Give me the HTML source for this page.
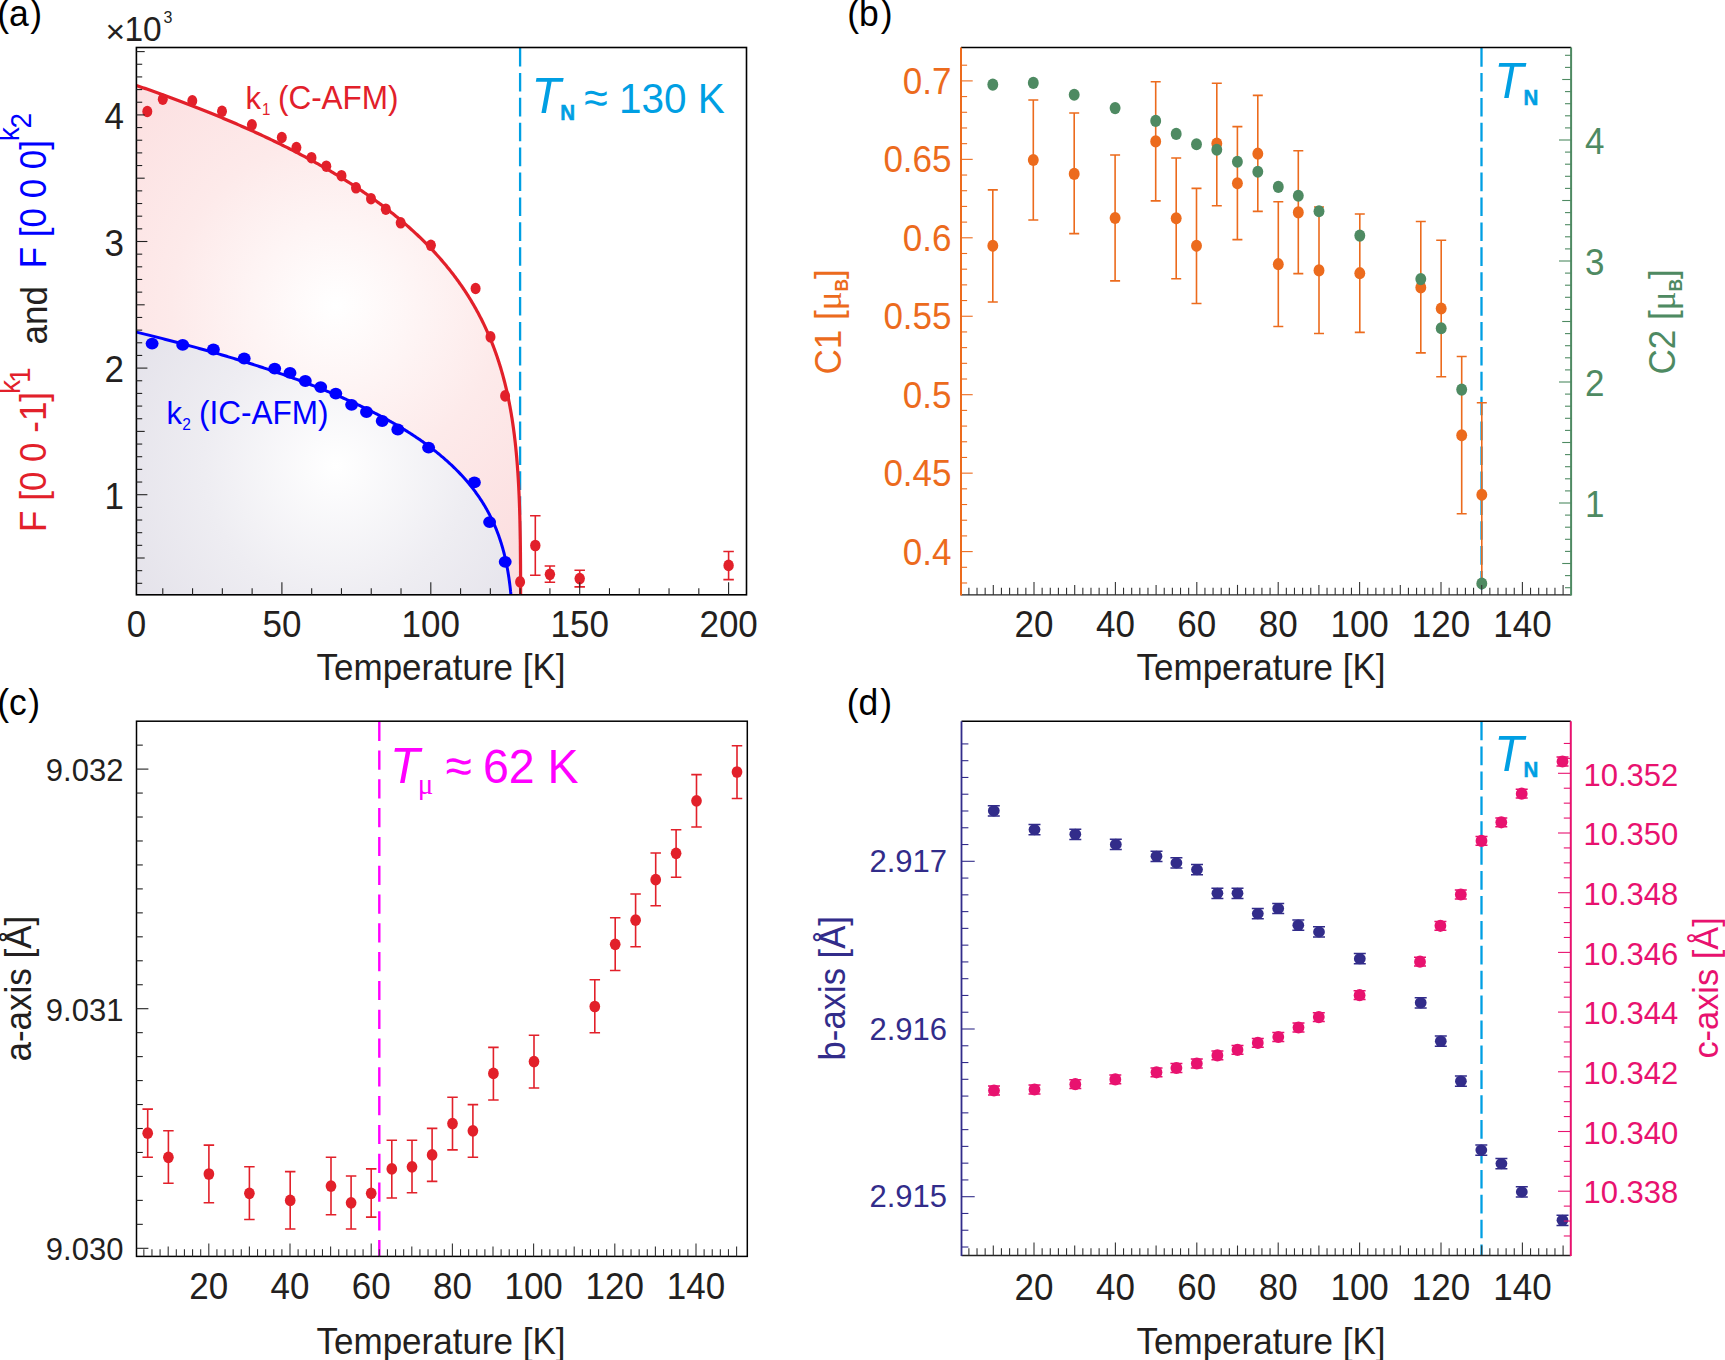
<!DOCTYPE html>
<html><head><meta charset="utf-8"><title>Figure</title>
<style>html,body{margin:0;padding:0;background:#fff;} svg{display:block;}</style></head>
<body><svg width="1725" height="1360" viewBox="0 0 1725 1360">
<rect width="1725" height="1360" fill="#fff"/>
<text transform="translate(-2.8,25.5) scale(1,1.04)" font-family="'Liberation Sans', Arial, Helvetica, sans-serif" font-size="35.5" fill="#000" text-anchor="start">(a<tspan dx="1.4">)</tspan></text>
<text transform="translate(847.2,25.5) scale(1,1.04)" font-family="'Liberation Sans', Arial, Helvetica, sans-serif" font-size="35.5" fill="#000" text-anchor="start">(b<tspan dx="1.9">)</tspan></text>
<text transform="translate(-2.7,714.5) scale(1,1.04)" font-family="'Liberation Sans', Arial, Helvetica, sans-serif" font-size="35.5" fill="#000" text-anchor="start">(c<tspan dx="1.4">)</tspan></text>
<text transform="translate(846.8,714.5) scale(1,1.04)" font-family="'Liberation Sans', Arial, Helvetica, sans-serif" font-size="35.5" fill="#000" text-anchor="start">(d<tspan dx="1.9">)</tspan></text>
<defs><radialGradient id="gR" gradientUnits="userSpaceOnUse" cx="336" cy="306" r="300"><stop offset="0" stop-color="#ffffff"/><stop offset="0.55" stop-color="#fdeaea"/><stop offset="1" stop-color="#fcdfe0"/></radialGradient><radialGradient id="gB" gradientUnits="userSpaceOnUse" cx="336" cy="466" r="240"><stop offset="0" stop-color="#ffffff"/><stop offset="0.55" stop-color="#eeedf2"/><stop offset="1" stop-color="#e4e2ea"/></radialGradient></defs>
<polygon points="136.40,85.46 138.52,86.19 140.62,86.92 142.73,87.65 144.82,88.38 146.91,89.11 149.00,89.84 151.07,90.58 153.14,91.31 155.21,92.05 157.27,92.78 159.32,93.52 161.36,94.26 163.40,95.00 165.43,95.74 167.46,96.48 169.48,97.22 171.49,97.96 173.50,98.71 175.50,99.45 177.50,100.20 179.49,100.95 181.47,101.69 183.44,102.44 185.41,103.19 187.38,103.94 189.33,104.69 191.29,105.45 193.23,106.20 195.17,106.96 197.10,107.71 199.03,108.47 200.94,109.23 202.86,109.98 204.76,110.74 206.66,111.50 208.56,112.27 210.45,113.03 212.33,113.79 214.20,114.56 216.07,115.32 217.94,116.09 219.79,116.86 221.64,117.63 223.49,118.40 225.33,119.17 227.16,119.94 228.98,120.71 230.80,121.49 232.62,122.26 234.42,123.04 236.23,123.82 238.02,124.60 239.81,125.38 241.59,126.16 243.37,126.94 245.14,127.72 246.90,128.51 248.66,129.29 250.41,130.08 252.15,130.87 253.89,131.66 255.63,132.45 257.35,133.24 259.07,134.03 260.79,134.82 262.50,135.62 264.20,136.41 265.89,137.21 267.58,138.01 269.27,138.81 270.95,139.61 272.62,140.41 274.28,141.21 275.94,142.02 277.59,142.82 279.24,143.63 280.88,144.44 282.52,145.25 284.15,146.06 285.77,146.87 287.38,147.68 289.00,148.49 290.60,149.31 292.20,150.12 293.79,150.94 295.38,151.76 296.96,152.58 298.53,153.40 300.10,154.23 301.66,155.05 303.22,155.88 304.77,156.70 306.31,157.53 307.85,158.36 309.38,159.19 310.90,160.02 312.42,160.86 313.94,161.69 315.44,162.53 316.95,163.36 318.44,164.20 319.93,165.04 321.41,165.89 322.89,166.73 324.36,167.57 325.83,168.42 327.29,169.27 328.74,170.11 330.19,170.96 331.63,171.82 333.07,172.67 334.50,173.52 335.92,174.38 337.34,175.24 338.75,176.10 340.15,176.96 341.55,177.82 342.95,178.68 344.34,179.55 345.72,180.41 347.09,181.28 348.46,182.15 349.83,183.02 351.19,183.89 352.54,184.77 353.88,185.64 355.23,186.52 356.56,187.40 357.89,188.28 359.21,189.16 360.53,190.04 361.84,190.93 363.14,191.82 364.44,192.70 365.74,193.59 367.03,194.48 368.31,195.38 369.58,196.27 370.85,197.17 372.12,198.07 373.38,198.97 374.63,199.87 375.87,200.77 377.12,201.68 378.35,202.59 379.58,203.49 380.80,204.40 382.02,205.32 383.23,206.23 384.44,207.15 385.64,208.06 386.83,208.98 388.02,209.90 389.20,210.83 390.38,211.75 391.55,212.68 392.72,213.61 393.88,214.54 395.03,215.47 396.18,216.40 397.32,217.34 398.46,218.28 399.59,219.22 400.71,220.16 401.83,221.10 402.95,222.05 404.06,223.00 405.16,223.95 406.25,224.90 407.35,225.85 408.43,226.81 409.51,227.77 410.58,228.73 411.65,229.69 412.71,230.65 413.77,231.62 414.82,232.59 415.87,233.56 416.91,234.53 417.94,235.51 418.97,236.48 419.99,237.46 421.01,238.45 422.02,239.43 423.03,240.42 424.03,241.40 425.02,242.39 426.01,243.39 426.99,244.38 427.97,245.38 428.94,246.38 429.91,247.38 430.87,248.39 431.83,249.39 432.78,250.40 433.72,251.41 434.66,252.43 435.59,253.44 436.52,254.46 437.44,255.48 438.36,256.51 439.27,257.53 440.18,258.56 441.08,259.60 441.97,260.63 442.86,261.67 443.74,262.71 444.62,263.75 445.49,264.79 446.36,265.84 447.22,266.89 448.08,267.94 448.93,269.00 449.77,270.06 450.61,271.12 451.45,272.18 452.28,273.25 453.10,274.32 453.92,275.39 454.73,276.47 455.54,277.55 456.34,278.63 457.13,279.71 457.92,280.80 458.71,281.89 459.49,282.98 460.26,284.08 461.03,285.18 461.80,286.28 462.55,287.39 463.31,288.50 464.06,289.61 464.80,290.73 465.53,291.85 466.27,292.97 466.99,294.09 467.71,295.22 468.43,296.36 469.14,297.49 469.84,298.63 470.54,299.77 471.24,300.92 471.93,302.07 472.61,303.22 473.29,304.38 473.96,305.54 474.63,306.71 475.29,307.87 475.95,309.05 476.60,310.22 477.25,311.40 477.89,312.59 478.53,313.77 479.16,314.96 479.79,316.16 480.41,317.36 481.02,318.56 481.63,319.77 482.24,320.98 482.84,322.20 483.43,323.42 484.02,324.64 484.61,325.87 485.19,327.11 485.76,328.34 486.33,329.59 486.90,330.83 487.46,332.09 488.01,333.34 488.56,334.60 489.10,335.87 489.64,337.14 490.17,338.41 490.70,339.69 491.23,340.98 491.75,342.27 492.26,343.57 492.77,344.87 493.27,346.17 493.77,347.48 494.26,348.80 494.75,350.12 495.24,351.45 495.71,352.78 496.19,354.12 496.66,355.47 497.12,356.82 497.58,358.17 498.03,359.53 498.48,360.90 498.93,362.28 499.36,363.66 499.80,365.04 500.23,366.44 500.65,367.83 501.07,369.24 501.49,370.65 501.90,372.07 502.30,373.50 502.70,374.93 503.10,376.37 503.49,377.82 503.87,379.27 504.25,380.73 504.63,382.20 505.00,383.68 505.37,385.16 505.73,386.65 506.09,388.15 506.44,389.66 506.79,391.18 507.13,392.70 507.47,394.24 507.80,395.78 508.13,397.33 508.46,398.89 508.77,400.45 509.09,402.03 509.40,403.62 509.71,405.21 510.01,406.82 510.30,408.44 510.60,410.06 510.88,411.70 511.17,413.34 511.44,415.00 511.72,416.67 511.99,418.35 512.25,420.04 512.51,421.74 512.77,423.45 513.02,425.18 513.26,426.92 513.51,428.67 513.74,430.43 513.98,432.21 514.21,434.00 514.43,435.80 514.65,437.62 514.87,439.45 515.08,441.30 515.29,443.16 515.49,445.03 515.69,446.93 515.88,448.83 516.07,450.76 516.26,452.70 516.44,454.66 516.62,456.64 516.79,458.63 516.96,460.65 517.12,462.68 517.28,464.73 517.44,466.81 517.59,468.90 517.74,471.02 517.89,473.15 518.03,475.31 518.16,477.50 518.29,479.71 518.42,481.94 518.55,484.20 518.67,486.49 518.78,488.80 518.90,491.14 519.00,493.51 519.11,495.92 519.21,498.35 519.31,500.81 519.40,503.31 519.49,505.84 519.57,508.41 519.66,511.01 519.73,513.66 519.81,516.34 519.88,519.05 519.95,521.81 520.01,524.61 520.07,527.46 520.13,530.34 520.18,533.26 520.23,536.23 520.28,539.23 520.32,542.27 520.36,545.33 520.39,548.42 520.43,551.53 520.46,554.63 520.48,557.71 520.51,560.74 520.53,563.69 520.55,566.50 520.56,569.13 520.57,571.50 520.58,573.53 520.59,575.15 520.60,576.30 520.60,576.95 520.60,577.13 520.6,594.8 136.4,594.8" fill="url(#gR)"/>
<polygon points="136.40,332.12 138.46,332.62 140.52,333.12 142.57,333.63 144.61,334.13 146.65,334.63 148.68,335.13 150.70,335.64 152.72,336.14 154.73,336.65 156.74,337.15 158.74,337.66 160.73,338.17 162.72,338.67 164.70,339.18 166.68,339.69 168.65,340.20 170.61,340.71 172.57,341.22 174.52,341.73 176.46,342.24 178.40,342.75 180.33,343.27 182.26,343.78 184.18,344.29 186.09,344.81 188.00,345.32 189.90,345.84 191.79,346.36 193.68,346.87 195.57,347.39 197.44,347.91 199.31,348.43 201.18,348.95 203.04,349.47 204.89,349.99 206.74,350.51 208.58,351.03 210.41,351.55 212.24,352.08 214.06,352.60 215.88,353.13 217.69,353.65 219.49,354.18 221.29,354.70 223.08,355.23 224.87,355.76 226.65,356.29 228.42,356.82 230.19,357.34 231.95,357.88 233.70,358.41 235.45,358.94 237.20,359.47 238.93,360.00 240.67,360.54 242.39,361.07 244.11,361.61 245.82,362.14 247.53,362.68 249.23,363.22 250.93,363.75 252.62,364.29 254.30,364.83 255.98,365.37 257.65,365.91 259.31,366.45 260.97,367.00 262.62,367.54 264.27,368.08 265.91,368.63 267.55,369.17 269.18,369.72 270.80,370.26 272.42,370.81 274.03,371.36 275.64,371.91 277.23,372.46 278.83,373.01 280.42,373.56 282.00,374.11 283.57,374.66 285.14,375.22 286.71,375.77 288.26,376.32 289.82,376.88 291.36,377.44 292.90,377.99 294.44,378.55 295.96,379.11 297.49,379.67 299.00,380.23 300.51,380.79 302.02,381.35 303.52,381.91 305.01,382.48 306.50,383.04 307.98,383.61 309.45,384.17 310.92,384.74 312.39,385.31 313.85,385.87 315.30,386.44 316.74,387.01 318.18,387.58 319.62,388.16 321.05,388.73 322.47,389.30 323.89,389.88 325.30,390.45 326.70,391.03 328.10,391.60 329.49,392.18 330.88,392.76 332.26,393.34 333.64,393.92 335.01,394.50 336.37,395.08 337.73,395.66 339.09,396.25 340.43,396.83 341.77,397.42 343.11,398.00 344.44,398.59 345.76,399.18 347.08,399.77 348.39,400.36 349.70,400.95 351.00,401.54 352.30,402.13 353.59,402.73 354.87,403.32 356.15,403.92 357.42,404.51 358.69,405.11 359.95,405.71 361.20,406.31 362.45,406.91 363.70,407.51 364.93,408.11 366.17,408.72 367.39,409.32 368.61,409.93 369.83,410.53 371.04,411.14 372.24,411.75 373.44,412.36 374.63,412.97 375.82,413.58 377.00,414.19 378.18,414.81 379.35,415.42 380.51,416.04 381.67,416.66 382.82,417.27 383.97,417.89 385.11,418.51 386.25,419.13 387.38,419.76 388.50,420.38 389.62,421.00 390.73,421.63 391.84,422.25 392.94,422.88 394.04,423.51 395.13,424.14 396.22,424.77 397.30,425.40 398.37,426.04 399.44,426.67 400.50,427.31 401.56,427.94 402.61,428.58 403.66,429.22 404.70,429.86 405.74,430.50 406.77,431.14 407.79,431.79 408.81,432.43 409.83,433.08 410.83,433.73 411.84,434.38 412.83,435.03 413.82,435.68 414.81,436.33 415.79,436.98 416.77,437.64 417.74,438.29 418.70,438.95 419.66,439.61 420.61,440.27 421.56,440.93 422.50,441.59 423.44,442.26 424.37,442.92 425.30,443.59 426.22,444.26 427.13,444.93 428.04,445.60 428.94,446.27 429.84,446.94 430.74,447.62 431.62,448.29 432.51,448.97 433.38,449.65 434.26,450.33 435.12,451.01 435.98,451.70 436.84,452.38 437.69,453.07 438.54,453.75 439.37,454.44 440.21,455.13 441.04,455.82 441.86,456.52 442.68,457.21 443.49,457.91 444.30,458.61 445.10,459.31 445.90,460.01 446.69,460.71 447.48,461.41 448.26,462.12 449.04,462.83 449.81,463.53 450.57,464.24 451.33,464.96 452.09,465.67 452.84,466.38 453.58,467.10 454.32,467.82 455.05,468.54 455.78,469.26 456.51,469.98 457.22,470.71 457.94,471.43 458.65,472.16 459.35,472.89 460.05,473.62 460.74,474.36 461.43,475.09 462.11,475.83 462.78,476.57 463.46,477.31 464.12,478.05 464.78,478.79 465.44,479.54 466.09,480.29 466.74,481.04 467.38,481.79 468.01,482.54 468.64,483.30 469.27,484.05 469.89,484.81 470.51,485.57 471.12,486.33 471.72,487.10 472.32,487.86 472.92,488.63 473.51,489.40 474.09,490.17 474.67,490.95 475.25,491.72 475.82,492.50 476.38,493.28 476.94,494.06 477.50,494.85 478.05,495.63 478.59,496.42 479.13,497.21 479.67,498.00 480.20,498.79 480.72,499.59 481.24,500.39 481.76,501.19 482.27,501.99 482.77,502.79 483.27,503.60 483.77,504.41 484.26,505.22 484.75,506.03 485.23,506.85 485.70,507.66 486.18,508.48 486.64,509.31 487.10,510.13 487.56,510.95 488.01,511.78 488.46,512.61 488.90,513.44 489.34,514.28 489.77,515.12 490.20,515.95 490.62,516.80 491.04,517.64 491.46,518.48 491.86,519.33 492.27,520.18 492.67,521.03 493.06,521.89 493.45,522.74 493.84,523.60 494.22,524.46 494.60,525.33 494.97,526.19 495.33,527.06 495.70,527.93 496.05,528.80 496.41,529.67 496.75,530.55 497.10,531.43 497.44,532.31 497.77,533.19 498.10,534.07 498.43,534.96 498.75,535.84 499.06,536.73 499.37,537.62 499.68,538.52 499.98,539.41 500.28,540.31 500.57,541.21 500.86,542.11 501.15,543.01 501.43,543.91 501.70,544.81 501.97,545.72 502.24,546.63 502.50,547.53 502.76,548.44 503.02,549.35 503.26,550.26 503.51,551.18 503.75,552.09 503.99,553.00 504.22,553.91 504.45,554.83 504.67,555.74 504.89,556.65 505.10,557.56 505.31,558.48 505.52,559.39 505.72,560.30 505.92,561.21 506.11,562.12 506.30,563.02 506.49,563.93 506.67,564.83 506.85,565.73 507.02,566.62 507.19,567.52 507.35,568.40 507.51,569.29 507.67,570.17 507.82,571.05 507.97,571.92 508.11,572.78 508.25,573.64 508.39,574.49 508.52,575.34 508.65,576.17 508.78,577.00 508.90,577.82 509.02,578.63 509.13,579.42 509.24,580.21 509.34,580.98 509.45,581.74 509.54,582.49 509.64,583.23 509.73,583.94 509.82,584.64 509.90,585.33 509.98,585.99 510.06,586.64 510.13,587.27 510.20,587.88 510.26,588.46 510.32,589.03 510.38,589.57 510.44,590.08 510.49,590.57 510.54,591.04 510.58,591.48 510.63,591.89 510.66,592.28 510.70,592.63 510.73,592.96 510.76,593.26 510.79,593.53 510.81,593.78 510.83,593.99 510.85,594.18 510.86,594.33 510.88,594.46 510.89,594.56 510.89,594.64 510.90,594.69 510.90,594.72 510.90,594.72 510.9,594.8 136.4,594.8" fill="url(#gB)"/>
<line x1="520.1" y1="48.0" x2="520.1" y2="594.8" stroke="#009fe3" stroke-width="2.3" stroke-dasharray="18.6 6.3"/>
<polyline points="136.40,85.46 138.52,86.19 140.62,86.92 142.73,87.65 144.82,88.38 146.91,89.11 149.00,89.84 151.07,90.58 153.14,91.31 155.21,92.05 157.27,92.78 159.32,93.52 161.36,94.26 163.40,95.00 165.43,95.74 167.46,96.48 169.48,97.22 171.49,97.96 173.50,98.71 175.50,99.45 177.50,100.20 179.49,100.95 181.47,101.69 183.44,102.44 185.41,103.19 187.38,103.94 189.33,104.69 191.29,105.45 193.23,106.20 195.17,106.96 197.10,107.71 199.03,108.47 200.94,109.23 202.86,109.98 204.76,110.74 206.66,111.50 208.56,112.27 210.45,113.03 212.33,113.79 214.20,114.56 216.07,115.32 217.94,116.09 219.79,116.86 221.64,117.63 223.49,118.40 225.33,119.17 227.16,119.94 228.98,120.71 230.80,121.49 232.62,122.26 234.42,123.04 236.23,123.82 238.02,124.60 239.81,125.38 241.59,126.16 243.37,126.94 245.14,127.72 246.90,128.51 248.66,129.29 250.41,130.08 252.15,130.87 253.89,131.66 255.63,132.45 257.35,133.24 259.07,134.03 260.79,134.82 262.50,135.62 264.20,136.41 265.89,137.21 267.58,138.01 269.27,138.81 270.95,139.61 272.62,140.41 274.28,141.21 275.94,142.02 277.59,142.82 279.24,143.63 280.88,144.44 282.52,145.25 284.15,146.06 285.77,146.87 287.38,147.68 289.00,148.49 290.60,149.31 292.20,150.12 293.79,150.94 295.38,151.76 296.96,152.58 298.53,153.40 300.10,154.23 301.66,155.05 303.22,155.88 304.77,156.70 306.31,157.53 307.85,158.36 309.38,159.19 310.90,160.02 312.42,160.86 313.94,161.69 315.44,162.53 316.95,163.36 318.44,164.20 319.93,165.04 321.41,165.89 322.89,166.73 324.36,167.57 325.83,168.42 327.29,169.27 328.74,170.11 330.19,170.96 331.63,171.82 333.07,172.67 334.50,173.52 335.92,174.38 337.34,175.24 338.75,176.10 340.15,176.96 341.55,177.82 342.95,178.68 344.34,179.55 345.72,180.41 347.09,181.28 348.46,182.15 349.83,183.02 351.19,183.89 352.54,184.77 353.88,185.64 355.23,186.52 356.56,187.40 357.89,188.28 359.21,189.16 360.53,190.04 361.84,190.93 363.14,191.82 364.44,192.70 365.74,193.59 367.03,194.48 368.31,195.38 369.58,196.27 370.85,197.17 372.12,198.07 373.38,198.97 374.63,199.87 375.87,200.77 377.12,201.68 378.35,202.59 379.58,203.49 380.80,204.40 382.02,205.32 383.23,206.23 384.44,207.15 385.64,208.06 386.83,208.98 388.02,209.90 389.20,210.83 390.38,211.75 391.55,212.68 392.72,213.61 393.88,214.54 395.03,215.47 396.18,216.40 397.32,217.34 398.46,218.28 399.59,219.22 400.71,220.16 401.83,221.10 402.95,222.05 404.06,223.00 405.16,223.95 406.25,224.90 407.35,225.85 408.43,226.81 409.51,227.77 410.58,228.73 411.65,229.69 412.71,230.65 413.77,231.62 414.82,232.59 415.87,233.56 416.91,234.53 417.94,235.51 418.97,236.48 419.99,237.46 421.01,238.45 422.02,239.43 423.03,240.42 424.03,241.40 425.02,242.39 426.01,243.39 426.99,244.38 427.97,245.38 428.94,246.38 429.91,247.38 430.87,248.39 431.83,249.39 432.78,250.40 433.72,251.41 434.66,252.43 435.59,253.44 436.52,254.46 437.44,255.48 438.36,256.51 439.27,257.53 440.18,258.56 441.08,259.60 441.97,260.63 442.86,261.67 443.74,262.71 444.62,263.75 445.49,264.79 446.36,265.84 447.22,266.89 448.08,267.94 448.93,269.00 449.77,270.06 450.61,271.12 451.45,272.18 452.28,273.25 453.10,274.32 453.92,275.39 454.73,276.47 455.54,277.55 456.34,278.63 457.13,279.71 457.92,280.80 458.71,281.89 459.49,282.98 460.26,284.08 461.03,285.18 461.80,286.28 462.55,287.39 463.31,288.50 464.06,289.61 464.80,290.73 465.53,291.85 466.27,292.97 466.99,294.09 467.71,295.22 468.43,296.36 469.14,297.49 469.84,298.63 470.54,299.77 471.24,300.92 471.93,302.07 472.61,303.22 473.29,304.38 473.96,305.54 474.63,306.71 475.29,307.87 475.95,309.05 476.60,310.22 477.25,311.40 477.89,312.59 478.53,313.77 479.16,314.96 479.79,316.16 480.41,317.36 481.02,318.56 481.63,319.77 482.24,320.98 482.84,322.20 483.43,323.42 484.02,324.64 484.61,325.87 485.19,327.11 485.76,328.34 486.33,329.59 486.90,330.83 487.46,332.09 488.01,333.34 488.56,334.60 489.10,335.87 489.64,337.14 490.17,338.41 490.70,339.69 491.23,340.98 491.75,342.27 492.26,343.57 492.77,344.87 493.27,346.17 493.77,347.48 494.26,348.80 494.75,350.12 495.24,351.45 495.71,352.78 496.19,354.12 496.66,355.47 497.12,356.82 497.58,358.17 498.03,359.53 498.48,360.90 498.93,362.28 499.36,363.66 499.80,365.04 500.23,366.44 500.65,367.83 501.07,369.24 501.49,370.65 501.90,372.07 502.30,373.50 502.70,374.93 503.10,376.37 503.49,377.82 503.87,379.27 504.25,380.73 504.63,382.20 505.00,383.68 505.37,385.16 505.73,386.65 506.09,388.15 506.44,389.66 506.79,391.18 507.13,392.70 507.47,394.24 507.80,395.78 508.13,397.33 508.46,398.89 508.77,400.45 509.09,402.03 509.40,403.62 509.71,405.21 510.01,406.82 510.30,408.44 510.60,410.06 510.88,411.70 511.17,413.34 511.44,415.00 511.72,416.67 511.99,418.35 512.25,420.04 512.51,421.74 512.77,423.45 513.02,425.18 513.26,426.92 513.51,428.67 513.74,430.43 513.98,432.21 514.21,434.00 514.43,435.80 514.65,437.62 514.87,439.45 515.08,441.30 515.29,443.16 515.49,445.03 515.69,446.93 515.88,448.83 516.07,450.76 516.26,452.70 516.44,454.66 516.62,456.64 516.79,458.63 516.96,460.65 517.12,462.68 517.28,464.73 517.44,466.81 517.59,468.90 517.74,471.02 517.89,473.15 518.03,475.31 518.16,477.50 518.29,479.71 518.42,481.94 518.55,484.20 518.67,486.49 518.78,488.80 518.90,491.14 519.00,493.51 519.11,495.92 519.21,498.35 519.31,500.81 519.40,503.31 519.49,505.84 519.57,508.41 519.66,511.01 519.73,513.66 519.81,516.34 519.88,519.05 519.95,521.81 520.01,524.61 520.07,527.46 520.13,530.34 520.18,533.26 520.23,536.23 520.28,539.23 520.32,542.27 520.36,545.33 520.39,548.42 520.43,551.53 520.46,554.63 520.48,557.71 520.51,560.74 520.53,563.69 520.55,566.50 520.56,569.13 520.57,571.50 520.58,573.53 520.59,575.15 520.60,576.30 520.60,576.95 520.60,577.13 520.6,594.8" fill="none" stroke="#e2202a" stroke-width="3.2"/>
<polyline points="136.40,332.12 138.46,332.62 140.52,333.12 142.57,333.63 144.61,334.13 146.65,334.63 148.68,335.13 150.70,335.64 152.72,336.14 154.73,336.65 156.74,337.15 158.74,337.66 160.73,338.17 162.72,338.67 164.70,339.18 166.68,339.69 168.65,340.20 170.61,340.71 172.57,341.22 174.52,341.73 176.46,342.24 178.40,342.75 180.33,343.27 182.26,343.78 184.18,344.29 186.09,344.81 188.00,345.32 189.90,345.84 191.79,346.36 193.68,346.87 195.57,347.39 197.44,347.91 199.31,348.43 201.18,348.95 203.04,349.47 204.89,349.99 206.74,350.51 208.58,351.03 210.41,351.55 212.24,352.08 214.06,352.60 215.88,353.13 217.69,353.65 219.49,354.18 221.29,354.70 223.08,355.23 224.87,355.76 226.65,356.29 228.42,356.82 230.19,357.34 231.95,357.88 233.70,358.41 235.45,358.94 237.20,359.47 238.93,360.00 240.67,360.54 242.39,361.07 244.11,361.61 245.82,362.14 247.53,362.68 249.23,363.22 250.93,363.75 252.62,364.29 254.30,364.83 255.98,365.37 257.65,365.91 259.31,366.45 260.97,367.00 262.62,367.54 264.27,368.08 265.91,368.63 267.55,369.17 269.18,369.72 270.80,370.26 272.42,370.81 274.03,371.36 275.64,371.91 277.23,372.46 278.83,373.01 280.42,373.56 282.00,374.11 283.57,374.66 285.14,375.22 286.71,375.77 288.26,376.32 289.82,376.88 291.36,377.44 292.90,377.99 294.44,378.55 295.96,379.11 297.49,379.67 299.00,380.23 300.51,380.79 302.02,381.35 303.52,381.91 305.01,382.48 306.50,383.04 307.98,383.61 309.45,384.17 310.92,384.74 312.39,385.31 313.85,385.87 315.30,386.44 316.74,387.01 318.18,387.58 319.62,388.16 321.05,388.73 322.47,389.30 323.89,389.88 325.30,390.45 326.70,391.03 328.10,391.60 329.49,392.18 330.88,392.76 332.26,393.34 333.64,393.92 335.01,394.50 336.37,395.08 337.73,395.66 339.09,396.25 340.43,396.83 341.77,397.42 343.11,398.00 344.44,398.59 345.76,399.18 347.08,399.77 348.39,400.36 349.70,400.95 351.00,401.54 352.30,402.13 353.59,402.73 354.87,403.32 356.15,403.92 357.42,404.51 358.69,405.11 359.95,405.71 361.20,406.31 362.45,406.91 363.70,407.51 364.93,408.11 366.17,408.72 367.39,409.32 368.61,409.93 369.83,410.53 371.04,411.14 372.24,411.75 373.44,412.36 374.63,412.97 375.82,413.58 377.00,414.19 378.18,414.81 379.35,415.42 380.51,416.04 381.67,416.66 382.82,417.27 383.97,417.89 385.11,418.51 386.25,419.13 387.38,419.76 388.50,420.38 389.62,421.00 390.73,421.63 391.84,422.25 392.94,422.88 394.04,423.51 395.13,424.14 396.22,424.77 397.30,425.40 398.37,426.04 399.44,426.67 400.50,427.31 401.56,427.94 402.61,428.58 403.66,429.22 404.70,429.86 405.74,430.50 406.77,431.14 407.79,431.79 408.81,432.43 409.83,433.08 410.83,433.73 411.84,434.38 412.83,435.03 413.82,435.68 414.81,436.33 415.79,436.98 416.77,437.64 417.74,438.29 418.70,438.95 419.66,439.61 420.61,440.27 421.56,440.93 422.50,441.59 423.44,442.26 424.37,442.92 425.30,443.59 426.22,444.26 427.13,444.93 428.04,445.60 428.94,446.27 429.84,446.94 430.74,447.62 431.62,448.29 432.51,448.97 433.38,449.65 434.26,450.33 435.12,451.01 435.98,451.70 436.84,452.38 437.69,453.07 438.54,453.75 439.37,454.44 440.21,455.13 441.04,455.82 441.86,456.52 442.68,457.21 443.49,457.91 444.30,458.61 445.10,459.31 445.90,460.01 446.69,460.71 447.48,461.41 448.26,462.12 449.04,462.83 449.81,463.53 450.57,464.24 451.33,464.96 452.09,465.67 452.84,466.38 453.58,467.10 454.32,467.82 455.05,468.54 455.78,469.26 456.51,469.98 457.22,470.71 457.94,471.43 458.65,472.16 459.35,472.89 460.05,473.62 460.74,474.36 461.43,475.09 462.11,475.83 462.78,476.57 463.46,477.31 464.12,478.05 464.78,478.79 465.44,479.54 466.09,480.29 466.74,481.04 467.38,481.79 468.01,482.54 468.64,483.30 469.27,484.05 469.89,484.81 470.51,485.57 471.12,486.33 471.72,487.10 472.32,487.86 472.92,488.63 473.51,489.40 474.09,490.17 474.67,490.95 475.25,491.72 475.82,492.50 476.38,493.28 476.94,494.06 477.50,494.85 478.05,495.63 478.59,496.42 479.13,497.21 479.67,498.00 480.20,498.79 480.72,499.59 481.24,500.39 481.76,501.19 482.27,501.99 482.77,502.79 483.27,503.60 483.77,504.41 484.26,505.22 484.75,506.03 485.23,506.85 485.70,507.66 486.18,508.48 486.64,509.31 487.10,510.13 487.56,510.95 488.01,511.78 488.46,512.61 488.90,513.44 489.34,514.28 489.77,515.12 490.20,515.95 490.62,516.80 491.04,517.64 491.46,518.48 491.86,519.33 492.27,520.18 492.67,521.03 493.06,521.89 493.45,522.74 493.84,523.60 494.22,524.46 494.60,525.33 494.97,526.19 495.33,527.06 495.70,527.93 496.05,528.80 496.41,529.67 496.75,530.55 497.10,531.43 497.44,532.31 497.77,533.19 498.10,534.07 498.43,534.96 498.75,535.84 499.06,536.73 499.37,537.62 499.68,538.52 499.98,539.41 500.28,540.31 500.57,541.21 500.86,542.11 501.15,543.01 501.43,543.91 501.70,544.81 501.97,545.72 502.24,546.63 502.50,547.53 502.76,548.44 503.02,549.35 503.26,550.26 503.51,551.18 503.75,552.09 503.99,553.00 504.22,553.91 504.45,554.83 504.67,555.74 504.89,556.65 505.10,557.56 505.31,558.48 505.52,559.39 505.72,560.30 505.92,561.21 506.11,562.12 506.30,563.02 506.49,563.93 506.67,564.83 506.85,565.73 507.02,566.62 507.19,567.52 507.35,568.40 507.51,569.29 507.67,570.17 507.82,571.05 507.97,571.92 508.11,572.78 508.25,573.64 508.39,574.49 508.52,575.34 508.65,576.17 508.78,577.00 508.90,577.82 509.02,578.63 509.13,579.42 509.24,580.21 509.34,580.98 509.45,581.74 509.54,582.49 509.64,583.23 509.73,583.94 509.82,584.64 509.90,585.33 509.98,585.99 510.06,586.64 510.13,587.27 510.20,587.88 510.26,588.46 510.32,589.03 510.38,589.57 510.44,590.08 510.49,590.57 510.54,591.04 510.58,591.48 510.63,591.89 510.66,592.28 510.70,592.63 510.73,592.96 510.76,593.26 510.79,593.53 510.81,593.78 510.83,593.99 510.85,594.18 510.86,594.33 510.88,594.46 510.89,594.56 510.89,594.64 510.90,594.69 510.90,594.72 510.90,594.72" fill="none" stroke="#0000ff" stroke-width="3.0"/>
<ellipse cx="147.3" cy="111.5" rx="5.0" ry="5.8" fill="#e2202a"/>
<ellipse cx="162.8" cy="99.2" rx="5.0" ry="5.8" fill="#e2202a"/>
<ellipse cx="192.3" cy="100.8" rx="5.0" ry="5.8" fill="#e2202a"/>
<ellipse cx="222" cy="111.3" rx="5.0" ry="5.8" fill="#e2202a"/>
<ellipse cx="251.9" cy="124.8" rx="5.0" ry="5.8" fill="#e2202a"/>
<ellipse cx="281.8" cy="137.5" rx="5.0" ry="5.8" fill="#e2202a"/>
<ellipse cx="296.4" cy="147.6" rx="5.0" ry="5.8" fill="#e2202a"/>
<ellipse cx="311.5" cy="157.7" rx="5.0" ry="5.8" fill="#e2202a"/>
<ellipse cx="326.3" cy="166.2" rx="5.0" ry="5.8" fill="#e2202a"/>
<ellipse cx="341.5" cy="175.7" rx="5.0" ry="5.8" fill="#e2202a"/>
<ellipse cx="356" cy="187.8" rx="5.0" ry="5.8" fill="#e2202a"/>
<ellipse cx="371" cy="198.7" rx="5.0" ry="5.8" fill="#e2202a"/>
<ellipse cx="385.8" cy="209.2" rx="5.0" ry="5.8" fill="#e2202a"/>
<ellipse cx="400.7" cy="222.8" rx="5.0" ry="5.8" fill="#e2202a"/>
<ellipse cx="430.9" cy="245.3" rx="5.0" ry="5.8" fill="#e2202a"/>
<ellipse cx="475.6" cy="288.5" rx="5.0" ry="5.8" fill="#e2202a"/>
<ellipse cx="490.5" cy="336.9" rx="5.0" ry="5.8" fill="#e2202a"/>
<ellipse cx="505.1" cy="395.9" rx="5.0" ry="5.8" fill="#e2202a"/>
<ellipse cx="520.1" cy="581.9" rx="5.0" ry="5.8" fill="#e2202a"/>
<path d="M535.3 515.7V575.3M530.05 515.7h10.5M530.05 575.3h10.5" stroke="#e2202a" stroke-width="1.6" fill="none"/>
<ellipse cx="535.3" cy="545.5" rx="5.2" ry="5.85" fill="#e2202a"/>
<path d="M549.9 566V582.2M544.65 566h10.5M544.65 582.2h10.5" stroke="#e2202a" stroke-width="1.6" fill="none"/>
<ellipse cx="549.9" cy="574.3" rx="5.2" ry="5.85" fill="#e2202a"/>
<path d="M579.7 570.3V586.9M574.45 570.3h10.5M574.45 586.9h10.5" stroke="#e2202a" stroke-width="1.6" fill="none"/>
<ellipse cx="579.7" cy="578.6" rx="5.2" ry="5.85" fill="#e2202a"/>
<path d="M728.6 551.5V579.6M723.35 551.5h10.5M723.35 579.6h10.5" stroke="#e2202a" stroke-width="1.6" fill="none"/>
<ellipse cx="728.6" cy="565.4" rx="5.2" ry="5.85" fill="#e2202a"/>
<ellipse cx="152.1" cy="343.6" rx="6.45" ry="5.9" fill="#0000ff"/>
<ellipse cx="182.7" cy="344.9" rx="6.45" ry="5.9" fill="#0000ff"/>
<ellipse cx="213.4" cy="349.5" rx="6.45" ry="5.9" fill="#0000ff"/>
<ellipse cx="244.2" cy="358.5" rx="6.45" ry="5.9" fill="#0000ff"/>
<ellipse cx="274.7" cy="368.6" rx="6.45" ry="5.9" fill="#0000ff"/>
<ellipse cx="290" cy="372.9" rx="6.45" ry="5.9" fill="#0000ff"/>
<ellipse cx="305.3" cy="381" rx="6.45" ry="5.9" fill="#0000ff"/>
<ellipse cx="320.7" cy="387.1" rx="6.45" ry="5.9" fill="#0000ff"/>
<ellipse cx="335.8" cy="393.6" rx="6.45" ry="5.9" fill="#0000ff"/>
<ellipse cx="351.6" cy="404.8" rx="6.45" ry="5.9" fill="#0000ff"/>
<ellipse cx="366.5" cy="412" rx="6.45" ry="5.9" fill="#0000ff"/>
<ellipse cx="382.2" cy="421" rx="6.45" ry="5.9" fill="#0000ff"/>
<ellipse cx="397.8" cy="429.5" rx="6.45" ry="5.9" fill="#0000ff"/>
<ellipse cx="428.6" cy="447.6" rx="6.45" ry="5.9" fill="#0000ff"/>
<ellipse cx="474.4" cy="482.4" rx="6.45" ry="5.9" fill="#0000ff"/>
<ellipse cx="489.6" cy="522.1" rx="6.45" ry="5.9" fill="#0000ff"/>
<ellipse cx="505.2" cy="561.8" rx="6.45" ry="5.9" fill="#0000ff"/>
<text transform="translate(245.4,108.8) scale(1,1.04)" font-family="'Liberation Sans', Arial, Helvetica, sans-serif" font-size="31" fill="#e2202a" text-anchor="start">k</text>
<text transform="translate(262.1,114.8) scale(1,1.04)" font-family="'Liberation Sans', Arial, Helvetica, sans-serif" font-size="15" fill="#e2202a" text-anchor="start">1</text>
<text transform="translate(277.9,108.8) scale(1,1.04)" font-family="'Liberation Sans', Arial, Helvetica, sans-serif" font-size="31.5" fill="#e2202a" text-anchor="start">(C-AFM)</text>
<text transform="translate(166.5,424.3) scale(1,1.04)" font-family="'Liberation Sans', Arial, Helvetica, sans-serif" font-size="31" fill="#0000ff" text-anchor="start">k</text>
<text transform="translate(182.2,429.6) scale(1,1.04)" font-family="'Liberation Sans', Arial, Helvetica, sans-serif" font-size="15.5" fill="#0000ff" text-anchor="start">2</text>
<text transform="translate(199,424.3) scale(1,1.04)" font-family="'Liberation Sans', Arial, Helvetica, sans-serif" font-size="31.5" fill="#0000ff" text-anchor="start">(IC-AFM)</text>
<text transform="translate(531.5,112.9) scale(1,1.04)" font-family="'Liberation Sans', Arial, Helvetica, sans-serif" font-size="48" fill="#009fe3" text-anchor="start" font-style="italic">T</text>
<text transform="translate(560.3,120.4) scale(1,1.04)" font-family="'Liberation Sans', Arial, Helvetica, sans-serif" font-size="20.5" fill="#009fe3" text-anchor="start" font-weight="bold" stroke="#009fe3" stroke-width="0.5">N</text>
<text transform="translate(584.2,112.9) scale(1,1.04)" font-family="'Liberation Sans', Arial, Helvetica, sans-serif" font-size="43" fill="#009fe3" text-anchor="start">≈</text>
<text transform="translate(619,112.9) scale(1,1.04)" font-family="'Liberation Sans', Arial, Helvetica, sans-serif" font-size="40.5" fill="#009fe3" text-anchor="start">130 K</text>
<rect x="136.4" y="47.5" width="610.1" height="547.3" fill="none" stroke="#000" stroke-width="1.6"/>
<line x1="162.78" y1="594.8" x2="162.78" y2="588.2" stroke="#222" stroke-width="1.1"/>
<line x1="192.56" y1="594.8" x2="192.56" y2="588.2" stroke="#222" stroke-width="1.1"/>
<line x1="222.34" y1="594.8" x2="222.34" y2="588.2" stroke="#222" stroke-width="1.1"/>
<line x1="252.12" y1="594.8" x2="252.12" y2="588.2" stroke="#222" stroke-width="1.1"/>
<line x1="281.9" y1="594.8" x2="281.9" y2="582.2" stroke="#222" stroke-width="1.1"/>
<line x1="311.68" y1="594.8" x2="311.68" y2="588.2" stroke="#222" stroke-width="1.1"/>
<line x1="341.46" y1="594.8" x2="341.46" y2="588.2" stroke="#222" stroke-width="1.1"/>
<line x1="371.24" y1="594.8" x2="371.24" y2="588.2" stroke="#222" stroke-width="1.1"/>
<line x1="401.02" y1="594.8" x2="401.02" y2="588.2" stroke="#222" stroke-width="1.1"/>
<line x1="430.8" y1="594.8" x2="430.8" y2="582.2" stroke="#222" stroke-width="1.1"/>
<line x1="460.58" y1="594.8" x2="460.58" y2="588.2" stroke="#222" stroke-width="1.1"/>
<line x1="490.36" y1="594.8" x2="490.36" y2="588.2" stroke="#222" stroke-width="1.1"/>
<line x1="520.14" y1="594.8" x2="520.14" y2="588.2" stroke="#222" stroke-width="1.1"/>
<line x1="549.92" y1="594.8" x2="549.92" y2="588.2" stroke="#222" stroke-width="1.1"/>
<line x1="579.7" y1="594.8" x2="579.7" y2="582.2" stroke="#222" stroke-width="1.1"/>
<line x1="609.48" y1="594.8" x2="609.48" y2="588.2" stroke="#222" stroke-width="1.1"/>
<line x1="639.26" y1="594.8" x2="639.26" y2="588.2" stroke="#222" stroke-width="1.1"/>
<line x1="669.04" y1="594.8" x2="669.04" y2="588.2" stroke="#222" stroke-width="1.1"/>
<line x1="698.82" y1="594.8" x2="698.82" y2="588.2" stroke="#222" stroke-width="1.1"/>
<line x1="728.6" y1="594.8" x2="728.6" y2="582.2" stroke="#222" stroke-width="1.1"/>
<line x1="136.4" y1="583.32" x2="142.2" y2="583.32" stroke="#222" stroke-width="1.1"/>
<line x1="136.4" y1="570.66" x2="142.2" y2="570.66" stroke="#222" stroke-width="1.1"/>
<line x1="136.4" y1="558" x2="144.7" y2="558" stroke="#222" stroke-width="1.1"/>
<line x1="136.4" y1="545.34" x2="142.2" y2="545.34" stroke="#222" stroke-width="1.1"/>
<line x1="136.4" y1="532.68" x2="142.2" y2="532.68" stroke="#222" stroke-width="1.1"/>
<line x1="136.4" y1="520.02" x2="142.2" y2="520.02" stroke="#222" stroke-width="1.1"/>
<line x1="136.4" y1="507.36" x2="142.2" y2="507.36" stroke="#222" stroke-width="1.1"/>
<line x1="136.4" y1="494.7" x2="147.4" y2="494.7" stroke="#222" stroke-width="1.1"/>
<line x1="136.4" y1="482.04" x2="142.2" y2="482.04" stroke="#222" stroke-width="1.1"/>
<line x1="136.4" y1="469.38" x2="142.2" y2="469.38" stroke="#222" stroke-width="1.1"/>
<line x1="136.4" y1="456.72" x2="142.2" y2="456.72" stroke="#222" stroke-width="1.1"/>
<line x1="136.4" y1="444.06" x2="142.2" y2="444.06" stroke="#222" stroke-width="1.1"/>
<line x1="136.4" y1="431.4" x2="144.7" y2="431.4" stroke="#222" stroke-width="1.1"/>
<line x1="136.4" y1="418.74" x2="142.2" y2="418.74" stroke="#222" stroke-width="1.1"/>
<line x1="136.4" y1="406.08" x2="142.2" y2="406.08" stroke="#222" stroke-width="1.1"/>
<line x1="136.4" y1="393.42" x2="142.2" y2="393.42" stroke="#222" stroke-width="1.1"/>
<line x1="136.4" y1="380.76" x2="142.2" y2="380.76" stroke="#222" stroke-width="1.1"/>
<line x1="136.4" y1="368.1" x2="147.4" y2="368.1" stroke="#222" stroke-width="1.1"/>
<line x1="136.4" y1="355.44" x2="142.2" y2="355.44" stroke="#222" stroke-width="1.1"/>
<line x1="136.4" y1="342.78" x2="142.2" y2="342.78" stroke="#222" stroke-width="1.1"/>
<line x1="136.4" y1="330.12" x2="142.2" y2="330.12" stroke="#222" stroke-width="1.1"/>
<line x1="136.4" y1="317.46" x2="142.2" y2="317.46" stroke="#222" stroke-width="1.1"/>
<line x1="136.4" y1="304.8" x2="144.7" y2="304.8" stroke="#222" stroke-width="1.1"/>
<line x1="136.4" y1="292.14" x2="142.2" y2="292.14" stroke="#222" stroke-width="1.1"/>
<line x1="136.4" y1="279.48" x2="142.2" y2="279.48" stroke="#222" stroke-width="1.1"/>
<line x1="136.4" y1="266.82" x2="142.2" y2="266.82" stroke="#222" stroke-width="1.1"/>
<line x1="136.4" y1="254.16" x2="142.2" y2="254.16" stroke="#222" stroke-width="1.1"/>
<line x1="136.4" y1="241.5" x2="147.4" y2="241.5" stroke="#222" stroke-width="1.1"/>
<line x1="136.4" y1="228.84" x2="142.2" y2="228.84" stroke="#222" stroke-width="1.1"/>
<line x1="136.4" y1="216.18" x2="142.2" y2="216.18" stroke="#222" stroke-width="1.1"/>
<line x1="136.4" y1="203.52" x2="142.2" y2="203.52" stroke="#222" stroke-width="1.1"/>
<line x1="136.4" y1="190.86" x2="142.2" y2="190.86" stroke="#222" stroke-width="1.1"/>
<line x1="136.4" y1="178.2" x2="144.7" y2="178.2" stroke="#222" stroke-width="1.1"/>
<line x1="136.4" y1="165.54" x2="142.2" y2="165.54" stroke="#222" stroke-width="1.1"/>
<line x1="136.4" y1="152.88" x2="142.2" y2="152.88" stroke="#222" stroke-width="1.1"/>
<line x1="136.4" y1="140.22" x2="142.2" y2="140.22" stroke="#222" stroke-width="1.1"/>
<line x1="136.4" y1="127.56" x2="142.2" y2="127.56" stroke="#222" stroke-width="1.1"/>
<line x1="136.4" y1="114.9" x2="144.7" y2="114.9" stroke="#222" stroke-width="1.1"/>
<line x1="136.4" y1="102.24" x2="142.2" y2="102.24" stroke="#222" stroke-width="1.1"/>
<line x1="136.4" y1="89.58" x2="142.2" y2="89.58" stroke="#222" stroke-width="1.1"/>
<line x1="136.4" y1="76.92" x2="142.2" y2="76.92" stroke="#222" stroke-width="1.1"/>
<line x1="136.4" y1="64.26" x2="142.2" y2="64.26" stroke="#222" stroke-width="1.1"/>
<line x1="136.4" y1="51.6" x2="144.7" y2="51.6" stroke="#222" stroke-width="1.1"/>
<text transform="translate(136.57,637) scale(1,1.04)" font-family="'Liberation Sans', Arial, Helvetica, sans-serif" font-size="35" fill="#231f20" text-anchor="middle">0</text>
<text transform="translate(281.9,637) scale(1,1.04)" font-family="'Liberation Sans', Arial, Helvetica, sans-serif" font-size="35" fill="#231f20" text-anchor="middle">50</text>
<text transform="translate(430.8,637) scale(1,1.04)" font-family="'Liberation Sans', Arial, Helvetica, sans-serif" font-size="35" fill="#231f20" text-anchor="middle">100</text>
<text transform="translate(579.7,637) scale(1,1.04)" font-family="'Liberation Sans', Arial, Helvetica, sans-serif" font-size="35" fill="#231f20" text-anchor="middle">150</text>
<text transform="translate(728.6,637) scale(1,1.04)" font-family="'Liberation Sans', Arial, Helvetica, sans-serif" font-size="35" fill="#231f20" text-anchor="middle">200</text>
<text transform="translate(124,508.9) scale(1,1.04)" font-family="'Liberation Sans', Arial, Helvetica, sans-serif" font-size="35" fill="#231f20" text-anchor="end">1</text>
<text transform="translate(124,382.3) scale(1,1.04)" font-family="'Liberation Sans', Arial, Helvetica, sans-serif" font-size="35" fill="#231f20" text-anchor="end">2</text>
<text transform="translate(124,255.7) scale(1,1.04)" font-family="'Liberation Sans', Arial, Helvetica, sans-serif" font-size="35" fill="#231f20" text-anchor="end">3</text>
<text transform="translate(124,129.1) scale(1,1.04)" font-family="'Liberation Sans', Arial, Helvetica, sans-serif" font-size="35" fill="#231f20" text-anchor="end">4</text>
<text transform="translate(441,680.1) scale(1,1.04)" font-family="'Liberation Sans', Arial, Helvetica, sans-serif" font-size="35" fill="#231f20" text-anchor="middle">Temperature [K]</text>
<text x="105.5" y="42.5" font-family="'Liberation Sans', Arial, Helvetica, sans-serif" font-size="33.6" fill="#231f20">×</text>
<text transform="translate(124.4,40.8) scale(1,1.04)" font-family="'Liberation Sans', Arial, Helvetica, sans-serif" font-size="33.5" fill="#231f20" text-anchor="start">10</text>
<text transform="translate(163.4,23) scale(1,1.04)" font-family="'Liberation Sans', Arial, Helvetica, sans-serif" font-size="16" fill="#231f20" text-anchor="start">3</text>
<text transform="translate(45.8,531.9) rotate(-90) scale(1,1.04)" font-family="'Liberation Sans', Arial, Helvetica, sans-serif" font-size="35" fill="#e2202a">F [0 0 -1]</text>
<text transform="translate(19.6,394) rotate(-90) scale(1,1.04)" font-family="'Liberation Sans', Arial, Helvetica, sans-serif" font-size="28" fill="#e2202a">k</text>
<text transform="translate(30.4,383) rotate(-90) scale(1,1.04)" font-family="'Liberation Sans', Arial, Helvetica, sans-serif" font-size="28" fill="#e2202a">1</text>
<text transform="translate(46.5,344.5) rotate(-90) scale(1,1.04)" font-family="'Liberation Sans', Arial, Helvetica, sans-serif" font-size="35" fill="#231f20">and</text>
<text transform="translate(45.8,268.3) rotate(-90) scale(1,1.04)" font-family="'Liberation Sans', Arial, Helvetica, sans-serif" font-size="35" fill="#0000ff">F [0 0 0]</text>
<text transform="translate(19.4,141.3) rotate(-90) scale(1,1.04)" font-family="'Liberation Sans', Arial, Helvetica, sans-serif" font-size="28" fill="#0000ff">k</text>
<text transform="translate(30.6,128.6) rotate(-90) scale(1,1.04)" font-family="'Liberation Sans', Arial, Helvetica, sans-serif" font-size="28" fill="#0000ff">2</text>
<line x1="1481.5" y1="48.1" x2="1481.5" y2="594.9" stroke="#009fe3" stroke-width="2.3" stroke-dasharray="18.6 6.3"/>
<path d="M992.8 189.9V302M987.8 189.9h10M987.8 302h10" stroke="#ec6b1d" stroke-width="1.6" fill="none"/>
<path d="M1033.3 100V220M1028.3 100h10M1028.3 220h10" stroke="#ec6b1d" stroke-width="1.6" fill="none"/>
<path d="M1074.2 113V233.6M1069.2 113h10M1069.2 233.6h10" stroke="#ec6b1d" stroke-width="1.6" fill="none"/>
<path d="M1115.1 155V280.9M1110.1 155h10M1110.1 280.9h10" stroke="#ec6b1d" stroke-width="1.6" fill="none"/>
<path d="M1155.7 81.7V200.9M1150.7 81.7h10M1150.7 200.9h10" stroke="#ec6b1d" stroke-width="1.6" fill="none"/>
<path d="M1176.2 158V278.8M1171.2 158h10M1171.2 278.8h10" stroke="#ec6b1d" stroke-width="1.6" fill="none"/>
<path d="M1196.5 188.4V303.5M1191.5 188.4h10M1191.5 303.5h10" stroke="#ec6b1d" stroke-width="1.6" fill="none"/>
<path d="M1216.8 83.3V205.7M1211.8 83.3h10M1211.8 205.7h10" stroke="#ec6b1d" stroke-width="1.6" fill="none"/>
<path d="M1237.4 126.6V239.6M1232.4 126.6h10M1232.4 239.6h10" stroke="#ec6b1d" stroke-width="1.6" fill="none"/>
<path d="M1257.8 95.4V211.4M1252.8 95.4h10M1252.8 211.4h10" stroke="#ec6b1d" stroke-width="1.6" fill="none"/>
<path d="M1278.3 201.8V326.5M1273.3 201.8h10M1273.3 326.5h10" stroke="#ec6b1d" stroke-width="1.6" fill="none"/>
<path d="M1298.3 150.7V273.6M1293.3 150.7h10M1293.3 273.6h10" stroke="#ec6b1d" stroke-width="1.6" fill="none"/>
<path d="M1319 207V333.5M1314 207h10M1314 333.5h10" stroke="#ec6b1d" stroke-width="1.6" fill="none"/>
<path d="M1359.8 214V332.4M1354.8 214h10M1354.8 332.4h10" stroke="#ec6b1d" stroke-width="1.6" fill="none"/>
<path d="M1420.8 221.5V352.9M1415.8 221.5h10M1415.8 352.9h10" stroke="#ec6b1d" stroke-width="1.6" fill="none"/>
<path d="M1441.2 240.2V376.7M1436.2 240.2h10M1436.2 376.7h10" stroke="#ec6b1d" stroke-width="1.6" fill="none"/>
<path d="M1461.7 356.5V513.7M1456.7 356.5h10M1456.7 513.7h10" stroke="#ec6b1d" stroke-width="1.6" fill="none"/>
<path d="M1481.8 402.8V585M1476.8 402.8h10M1476.8 585h10" stroke="#ec6b1d" stroke-width="1.6" fill="none"/>
<ellipse cx="992.8" cy="245.8" rx="5.45" ry="6.1" fill="#ec6b1d"/>
<ellipse cx="1033.3" cy="160" rx="5.45" ry="6.1" fill="#ec6b1d"/>
<ellipse cx="1074.2" cy="173.9" rx="5.45" ry="6.1" fill="#ec6b1d"/>
<ellipse cx="1115.1" cy="218" rx="5.45" ry="6.1" fill="#ec6b1d"/>
<ellipse cx="1155.7" cy="141.4" rx="5.45" ry="6.1" fill="#ec6b1d"/>
<ellipse cx="1176.2" cy="218.3" rx="5.45" ry="6.1" fill="#ec6b1d"/>
<ellipse cx="1196.5" cy="245.8" rx="5.45" ry="6.1" fill="#ec6b1d"/>
<ellipse cx="1216.8" cy="143.5" rx="5.45" ry="6.1" fill="#ec6b1d"/>
<ellipse cx="1237.4" cy="183.3" rx="5.45" ry="6.1" fill="#ec6b1d"/>
<ellipse cx="1257.8" cy="153.7" rx="5.45" ry="6.1" fill="#ec6b1d"/>
<ellipse cx="1278.3" cy="264.2" rx="5.45" ry="6.1" fill="#ec6b1d"/>
<ellipse cx="1298.3" cy="212.4" rx="5.45" ry="6.1" fill="#ec6b1d"/>
<ellipse cx="1319" cy="270.4" rx="5.45" ry="6.1" fill="#ec6b1d"/>
<ellipse cx="1359.8" cy="273.2" rx="5.45" ry="6.1" fill="#ec6b1d"/>
<ellipse cx="1420.8" cy="287.5" rx="5.45" ry="6.1" fill="#ec6b1d"/>
<ellipse cx="1441.2" cy="308.5" rx="5.45" ry="6.1" fill="#ec6b1d"/>
<ellipse cx="1461.7" cy="435.3" rx="5.45" ry="6.1" fill="#ec6b1d"/>
<ellipse cx="1481.8" cy="494.8" rx="5.45" ry="6.1" fill="#ec6b1d"/>
<ellipse cx="992.8" cy="84.6" rx="5.45" ry="6.05" fill="#4e8a62"/>
<ellipse cx="1033.3" cy="82.9" rx="5.45" ry="6.05" fill="#4e8a62"/>
<ellipse cx="1074.2" cy="94.8" rx="5.45" ry="6.05" fill="#4e8a62"/>
<ellipse cx="1115.1" cy="108.1" rx="5.45" ry="6.05" fill="#4e8a62"/>
<ellipse cx="1155.7" cy="120.9" rx="5.45" ry="6.05" fill="#4e8a62"/>
<ellipse cx="1176.2" cy="133.9" rx="5.45" ry="6.05" fill="#4e8a62"/>
<ellipse cx="1196.5" cy="144.3" rx="5.45" ry="6.05" fill="#4e8a62"/>
<ellipse cx="1216.8" cy="149.8" rx="5.45" ry="6.05" fill="#4e8a62"/>
<ellipse cx="1237.4" cy="161.8" rx="5.45" ry="6.05" fill="#4e8a62"/>
<ellipse cx="1257.8" cy="171.7" rx="5.45" ry="6.05" fill="#4e8a62"/>
<ellipse cx="1278.3" cy="186.9" rx="5.45" ry="6.05" fill="#4e8a62"/>
<ellipse cx="1298.3" cy="195.7" rx="5.45" ry="6.05" fill="#4e8a62"/>
<ellipse cx="1319" cy="211.2" rx="5.45" ry="6.05" fill="#4e8a62"/>
<ellipse cx="1359.8" cy="235.6" rx="5.45" ry="6.05" fill="#4e8a62"/>
<ellipse cx="1420.8" cy="279.1" rx="5.45" ry="6.05" fill="#4e8a62"/>
<ellipse cx="1441.2" cy="328.3" rx="5.45" ry="6.05" fill="#4e8a62"/>
<ellipse cx="1461.7" cy="389.6" rx="5.45" ry="6.05" fill="#4e8a62"/>
<ellipse cx="1481.8" cy="583.5" rx="5.45" ry="6.05" fill="#4e8a62"/>
<text transform="translate(1494.3,97.5) scale(1,1.04)" font-family="'Liberation Sans', Arial, Helvetica, sans-serif" font-size="48" fill="#009fe3" text-anchor="start" font-style="italic">T</text>
<text transform="translate(1523.5,105.4) scale(1,1.04)" font-family="'Liberation Sans', Arial, Helvetica, sans-serif" font-size="20.5" fill="#009fe3" text-anchor="start" font-weight="bold" stroke="#009fe3" stroke-width="0.5">N</text>
<line x1="960.9" y1="47.6" x2="1571.2" y2="47.6" stroke="#000" stroke-width="1.5"/>
<line x1="960.9" y1="594.9" x2="1571.2" y2="594.9" stroke="#222" stroke-width="1.4"/>
<line x1="961" y1="47.6" x2="961" y2="595.5" stroke="#ec6b1d" stroke-width="2.0"/>
<line x1="1571.1" y1="47.6" x2="1571.1" y2="595.5" stroke="#4e8a62" stroke-width="2.0"/>
<line x1="968.88" y1="594.9" x2="968.88" y2="587.7" stroke="#333" stroke-width="1.1"/>
<line x1="977.02" y1="594.9" x2="977.02" y2="587.7" stroke="#333" stroke-width="1.1"/>
<line x1="985.16" y1="594.9" x2="985.16" y2="587.7" stroke="#333" stroke-width="1.1"/>
<line x1="993.3" y1="594.9" x2="993.3" y2="584.9" stroke="#333" stroke-width="1.1"/>
<line x1="1001.44" y1="594.9" x2="1001.44" y2="587.7" stroke="#333" stroke-width="1.1"/>
<line x1="1009.58" y1="594.9" x2="1009.58" y2="587.7" stroke="#333" stroke-width="1.1"/>
<line x1="1017.72" y1="594.9" x2="1017.72" y2="587.7" stroke="#333" stroke-width="1.1"/>
<line x1="1025.86" y1="594.9" x2="1025.86" y2="587.7" stroke="#333" stroke-width="1.1"/>
<line x1="1034" y1="594.9" x2="1034" y2="581.9" stroke="#333" stroke-width="1.1"/>
<line x1="1042.14" y1="594.9" x2="1042.14" y2="587.7" stroke="#333" stroke-width="1.1"/>
<line x1="1050.28" y1="594.9" x2="1050.28" y2="587.7" stroke="#333" stroke-width="1.1"/>
<line x1="1058.42" y1="594.9" x2="1058.42" y2="587.7" stroke="#333" stroke-width="1.1"/>
<line x1="1066.56" y1="594.9" x2="1066.56" y2="587.7" stroke="#333" stroke-width="1.1"/>
<line x1="1074.7" y1="594.9" x2="1074.7" y2="584.9" stroke="#333" stroke-width="1.1"/>
<line x1="1082.84" y1="594.9" x2="1082.84" y2="587.7" stroke="#333" stroke-width="1.1"/>
<line x1="1090.98" y1="594.9" x2="1090.98" y2="587.7" stroke="#333" stroke-width="1.1"/>
<line x1="1099.12" y1="594.9" x2="1099.12" y2="587.7" stroke="#333" stroke-width="1.1"/>
<line x1="1107.26" y1="594.9" x2="1107.26" y2="587.7" stroke="#333" stroke-width="1.1"/>
<line x1="1115.4" y1="594.9" x2="1115.4" y2="581.9" stroke="#333" stroke-width="1.1"/>
<line x1="1123.54" y1="594.9" x2="1123.54" y2="587.7" stroke="#333" stroke-width="1.1"/>
<line x1="1131.68" y1="594.9" x2="1131.68" y2="587.7" stroke="#333" stroke-width="1.1"/>
<line x1="1139.82" y1="594.9" x2="1139.82" y2="587.7" stroke="#333" stroke-width="1.1"/>
<line x1="1147.96" y1="594.9" x2="1147.96" y2="587.7" stroke="#333" stroke-width="1.1"/>
<line x1="1156.1" y1="594.9" x2="1156.1" y2="584.9" stroke="#333" stroke-width="1.1"/>
<line x1="1164.24" y1="594.9" x2="1164.24" y2="587.7" stroke="#333" stroke-width="1.1"/>
<line x1="1172.38" y1="594.9" x2="1172.38" y2="587.7" stroke="#333" stroke-width="1.1"/>
<line x1="1180.52" y1="594.9" x2="1180.52" y2="587.7" stroke="#333" stroke-width="1.1"/>
<line x1="1188.66" y1="594.9" x2="1188.66" y2="587.7" stroke="#333" stroke-width="1.1"/>
<line x1="1196.8" y1="594.9" x2="1196.8" y2="581.9" stroke="#333" stroke-width="1.1"/>
<line x1="1204.94" y1="594.9" x2="1204.94" y2="587.7" stroke="#333" stroke-width="1.1"/>
<line x1="1213.08" y1="594.9" x2="1213.08" y2="587.7" stroke="#333" stroke-width="1.1"/>
<line x1="1221.22" y1="594.9" x2="1221.22" y2="587.7" stroke="#333" stroke-width="1.1"/>
<line x1="1229.36" y1="594.9" x2="1229.36" y2="587.7" stroke="#333" stroke-width="1.1"/>
<line x1="1237.5" y1="594.9" x2="1237.5" y2="584.9" stroke="#333" stroke-width="1.1"/>
<line x1="1245.64" y1="594.9" x2="1245.64" y2="587.7" stroke="#333" stroke-width="1.1"/>
<line x1="1253.78" y1="594.9" x2="1253.78" y2="587.7" stroke="#333" stroke-width="1.1"/>
<line x1="1261.92" y1="594.9" x2="1261.92" y2="587.7" stroke="#333" stroke-width="1.1"/>
<line x1="1270.06" y1="594.9" x2="1270.06" y2="587.7" stroke="#333" stroke-width="1.1"/>
<line x1="1278.2" y1="594.9" x2="1278.2" y2="581.9" stroke="#333" stroke-width="1.1"/>
<line x1="1286.34" y1="594.9" x2="1286.34" y2="587.7" stroke="#333" stroke-width="1.1"/>
<line x1="1294.48" y1="594.9" x2="1294.48" y2="587.7" stroke="#333" stroke-width="1.1"/>
<line x1="1302.62" y1="594.9" x2="1302.62" y2="587.7" stroke="#333" stroke-width="1.1"/>
<line x1="1310.76" y1="594.9" x2="1310.76" y2="587.7" stroke="#333" stroke-width="1.1"/>
<line x1="1318.9" y1="594.9" x2="1318.9" y2="584.9" stroke="#333" stroke-width="1.1"/>
<line x1="1327.04" y1="594.9" x2="1327.04" y2="587.7" stroke="#333" stroke-width="1.1"/>
<line x1="1335.18" y1="594.9" x2="1335.18" y2="587.7" stroke="#333" stroke-width="1.1"/>
<line x1="1343.32" y1="594.9" x2="1343.32" y2="587.7" stroke="#333" stroke-width="1.1"/>
<line x1="1351.46" y1="594.9" x2="1351.46" y2="587.7" stroke="#333" stroke-width="1.1"/>
<line x1="1359.6" y1="594.9" x2="1359.6" y2="581.9" stroke="#333" stroke-width="1.1"/>
<line x1="1367.74" y1="594.9" x2="1367.74" y2="587.7" stroke="#333" stroke-width="1.1"/>
<line x1="1375.88" y1="594.9" x2="1375.88" y2="587.7" stroke="#333" stroke-width="1.1"/>
<line x1="1384.02" y1="594.9" x2="1384.02" y2="587.7" stroke="#333" stroke-width="1.1"/>
<line x1="1392.16" y1="594.9" x2="1392.16" y2="587.7" stroke="#333" stroke-width="1.1"/>
<line x1="1400.3" y1="594.9" x2="1400.3" y2="584.9" stroke="#333" stroke-width="1.1"/>
<line x1="1408.44" y1="594.9" x2="1408.44" y2="587.7" stroke="#333" stroke-width="1.1"/>
<line x1="1416.58" y1="594.9" x2="1416.58" y2="587.7" stroke="#333" stroke-width="1.1"/>
<line x1="1424.72" y1="594.9" x2="1424.72" y2="587.7" stroke="#333" stroke-width="1.1"/>
<line x1="1432.86" y1="594.9" x2="1432.86" y2="587.7" stroke="#333" stroke-width="1.1"/>
<line x1="1441" y1="594.9" x2="1441" y2="581.9" stroke="#333" stroke-width="1.1"/>
<line x1="1449.14" y1="594.9" x2="1449.14" y2="587.7" stroke="#333" stroke-width="1.1"/>
<line x1="1457.28" y1="594.9" x2="1457.28" y2="587.7" stroke="#333" stroke-width="1.1"/>
<line x1="1465.42" y1="594.9" x2="1465.42" y2="587.7" stroke="#333" stroke-width="1.1"/>
<line x1="1473.56" y1="594.9" x2="1473.56" y2="587.7" stroke="#333" stroke-width="1.1"/>
<line x1="1481.7" y1="594.9" x2="1481.7" y2="584.9" stroke="#333" stroke-width="1.1"/>
<line x1="1489.84" y1="594.9" x2="1489.84" y2="587.7" stroke="#333" stroke-width="1.1"/>
<line x1="1497.98" y1="594.9" x2="1497.98" y2="587.7" stroke="#333" stroke-width="1.1"/>
<line x1="1506.12" y1="594.9" x2="1506.12" y2="587.7" stroke="#333" stroke-width="1.1"/>
<line x1="1514.26" y1="594.9" x2="1514.26" y2="587.7" stroke="#333" stroke-width="1.1"/>
<line x1="1522.4" y1="594.9" x2="1522.4" y2="581.9" stroke="#333" stroke-width="1.1"/>
<line x1="1530.54" y1="594.9" x2="1530.54" y2="587.7" stroke="#333" stroke-width="1.1"/>
<line x1="1538.68" y1="594.9" x2="1538.68" y2="587.7" stroke="#333" stroke-width="1.1"/>
<line x1="1546.82" y1="594.9" x2="1546.82" y2="587.7" stroke="#333" stroke-width="1.1"/>
<line x1="1554.96" y1="594.9" x2="1554.96" y2="587.7" stroke="#333" stroke-width="1.1"/>
<line x1="1563.1" y1="594.9" x2="1563.1" y2="584.9" stroke="#333" stroke-width="1.1"/>
<line x1="960.9" y1="582.98" x2="967.1" y2="582.98" stroke="#ec6b1d" stroke-width="1.1"/>
<line x1="960.9" y1="567.29" x2="967.1" y2="567.29" stroke="#ec6b1d" stroke-width="1.1"/>
<line x1="960.9" y1="551.6" x2="972.7" y2="551.6" stroke="#ec6b1d" stroke-width="1.1"/>
<line x1="960.9" y1="535.91" x2="967.1" y2="535.91" stroke="#ec6b1d" stroke-width="1.1"/>
<line x1="960.9" y1="520.22" x2="967.1" y2="520.22" stroke="#ec6b1d" stroke-width="1.1"/>
<line x1="960.9" y1="504.53" x2="967.1" y2="504.53" stroke="#ec6b1d" stroke-width="1.1"/>
<line x1="960.9" y1="488.84" x2="967.1" y2="488.84" stroke="#ec6b1d" stroke-width="1.1"/>
<line x1="960.9" y1="473.15" x2="972.7" y2="473.15" stroke="#ec6b1d" stroke-width="1.1"/>
<line x1="960.9" y1="457.46" x2="967.1" y2="457.46" stroke="#ec6b1d" stroke-width="1.1"/>
<line x1="960.9" y1="441.77" x2="967.1" y2="441.77" stroke="#ec6b1d" stroke-width="1.1"/>
<line x1="960.9" y1="426.08" x2="967.1" y2="426.08" stroke="#ec6b1d" stroke-width="1.1"/>
<line x1="960.9" y1="410.39" x2="967.1" y2="410.39" stroke="#ec6b1d" stroke-width="1.1"/>
<line x1="960.9" y1="394.7" x2="972.7" y2="394.7" stroke="#ec6b1d" stroke-width="1.1"/>
<line x1="960.9" y1="379.01" x2="967.1" y2="379.01" stroke="#ec6b1d" stroke-width="1.1"/>
<line x1="960.9" y1="363.32" x2="967.1" y2="363.32" stroke="#ec6b1d" stroke-width="1.1"/>
<line x1="960.9" y1="347.63" x2="967.1" y2="347.63" stroke="#ec6b1d" stroke-width="1.1"/>
<line x1="960.9" y1="331.94" x2="967.1" y2="331.94" stroke="#ec6b1d" stroke-width="1.1"/>
<line x1="960.9" y1="316.25" x2="972.7" y2="316.25" stroke="#ec6b1d" stroke-width="1.1"/>
<line x1="960.9" y1="300.56" x2="967.1" y2="300.56" stroke="#ec6b1d" stroke-width="1.1"/>
<line x1="960.9" y1="284.87" x2="967.1" y2="284.87" stroke="#ec6b1d" stroke-width="1.1"/>
<line x1="960.9" y1="269.18" x2="967.1" y2="269.18" stroke="#ec6b1d" stroke-width="1.1"/>
<line x1="960.9" y1="253.49" x2="967.1" y2="253.49" stroke="#ec6b1d" stroke-width="1.1"/>
<line x1="960.9" y1="237.8" x2="972.7" y2="237.8" stroke="#ec6b1d" stroke-width="1.1"/>
<line x1="960.9" y1="222.11" x2="967.1" y2="222.11" stroke="#ec6b1d" stroke-width="1.1"/>
<line x1="960.9" y1="206.42" x2="967.1" y2="206.42" stroke="#ec6b1d" stroke-width="1.1"/>
<line x1="960.9" y1="190.73" x2="967.1" y2="190.73" stroke="#ec6b1d" stroke-width="1.1"/>
<line x1="960.9" y1="175.04" x2="967.1" y2="175.04" stroke="#ec6b1d" stroke-width="1.1"/>
<line x1="960.9" y1="159.35" x2="972.7" y2="159.35" stroke="#ec6b1d" stroke-width="1.1"/>
<line x1="960.9" y1="143.66" x2="967.1" y2="143.66" stroke="#ec6b1d" stroke-width="1.1"/>
<line x1="960.9" y1="127.97" x2="967.1" y2="127.97" stroke="#ec6b1d" stroke-width="1.1"/>
<line x1="960.9" y1="112.28" x2="967.1" y2="112.28" stroke="#ec6b1d" stroke-width="1.1"/>
<line x1="960.9" y1="96.59" x2="967.1" y2="96.59" stroke="#ec6b1d" stroke-width="1.1"/>
<line x1="960.9" y1="80.9" x2="972.7" y2="80.9" stroke="#ec6b1d" stroke-width="1.1"/>
<line x1="960.9" y1="65.21" x2="967.1" y2="65.21" stroke="#ec6b1d" stroke-width="1.1"/>
<line x1="1571.2" y1="587.7" x2="1565" y2="587.7" stroke="#4e8a62" stroke-width="1.1"/>
<line x1="1571.2" y1="575.6" x2="1565" y2="575.6" stroke="#4e8a62" stroke-width="1.1"/>
<line x1="1571.2" y1="563.5" x2="1562.2" y2="563.5" stroke="#4e8a62" stroke-width="1.1"/>
<line x1="1571.2" y1="551.4" x2="1565" y2="551.4" stroke="#4e8a62" stroke-width="1.1"/>
<line x1="1571.2" y1="539.3" x2="1565" y2="539.3" stroke="#4e8a62" stroke-width="1.1"/>
<line x1="1571.2" y1="527.2" x2="1565" y2="527.2" stroke="#4e8a62" stroke-width="1.1"/>
<line x1="1571.2" y1="515.1" x2="1565" y2="515.1" stroke="#4e8a62" stroke-width="1.1"/>
<line x1="1571.2" y1="503" x2="1559" y2="503" stroke="#4e8a62" stroke-width="1.1"/>
<line x1="1571.2" y1="490.9" x2="1565" y2="490.9" stroke="#4e8a62" stroke-width="1.1"/>
<line x1="1571.2" y1="478.8" x2="1565" y2="478.8" stroke="#4e8a62" stroke-width="1.1"/>
<line x1="1571.2" y1="466.7" x2="1565" y2="466.7" stroke="#4e8a62" stroke-width="1.1"/>
<line x1="1571.2" y1="454.6" x2="1565" y2="454.6" stroke="#4e8a62" stroke-width="1.1"/>
<line x1="1571.2" y1="442.5" x2="1562.2" y2="442.5" stroke="#4e8a62" stroke-width="1.1"/>
<line x1="1571.2" y1="430.4" x2="1565" y2="430.4" stroke="#4e8a62" stroke-width="1.1"/>
<line x1="1571.2" y1="418.3" x2="1565" y2="418.3" stroke="#4e8a62" stroke-width="1.1"/>
<line x1="1571.2" y1="406.2" x2="1565" y2="406.2" stroke="#4e8a62" stroke-width="1.1"/>
<line x1="1571.2" y1="394.1" x2="1565" y2="394.1" stroke="#4e8a62" stroke-width="1.1"/>
<line x1="1571.2" y1="382" x2="1559" y2="382" stroke="#4e8a62" stroke-width="1.1"/>
<line x1="1571.2" y1="369.9" x2="1565" y2="369.9" stroke="#4e8a62" stroke-width="1.1"/>
<line x1="1571.2" y1="357.8" x2="1565" y2="357.8" stroke="#4e8a62" stroke-width="1.1"/>
<line x1="1571.2" y1="345.7" x2="1565" y2="345.7" stroke="#4e8a62" stroke-width="1.1"/>
<line x1="1571.2" y1="333.6" x2="1565" y2="333.6" stroke="#4e8a62" stroke-width="1.1"/>
<line x1="1571.2" y1="321.5" x2="1562.2" y2="321.5" stroke="#4e8a62" stroke-width="1.1"/>
<line x1="1571.2" y1="309.4" x2="1565" y2="309.4" stroke="#4e8a62" stroke-width="1.1"/>
<line x1="1571.2" y1="297.3" x2="1565" y2="297.3" stroke="#4e8a62" stroke-width="1.1"/>
<line x1="1571.2" y1="285.2" x2="1565" y2="285.2" stroke="#4e8a62" stroke-width="1.1"/>
<line x1="1571.2" y1="273.1" x2="1565" y2="273.1" stroke="#4e8a62" stroke-width="1.1"/>
<line x1="1571.2" y1="261" x2="1559" y2="261" stroke="#4e8a62" stroke-width="1.1"/>
<line x1="1571.2" y1="248.9" x2="1565" y2="248.9" stroke="#4e8a62" stroke-width="1.1"/>
<line x1="1571.2" y1="236.8" x2="1565" y2="236.8" stroke="#4e8a62" stroke-width="1.1"/>
<line x1="1571.2" y1="224.7" x2="1565" y2="224.7" stroke="#4e8a62" stroke-width="1.1"/>
<line x1="1571.2" y1="212.6" x2="1565" y2="212.6" stroke="#4e8a62" stroke-width="1.1"/>
<line x1="1571.2" y1="200.5" x2="1562.2" y2="200.5" stroke="#4e8a62" stroke-width="1.1"/>
<line x1="1571.2" y1="188.4" x2="1565" y2="188.4" stroke="#4e8a62" stroke-width="1.1"/>
<line x1="1571.2" y1="176.3" x2="1565" y2="176.3" stroke="#4e8a62" stroke-width="1.1"/>
<line x1="1571.2" y1="164.2" x2="1565" y2="164.2" stroke="#4e8a62" stroke-width="1.1"/>
<line x1="1571.2" y1="152.1" x2="1565" y2="152.1" stroke="#4e8a62" stroke-width="1.1"/>
<line x1="1571.2" y1="140" x2="1559" y2="140" stroke="#4e8a62" stroke-width="1.1"/>
<line x1="1571.2" y1="127.9" x2="1565" y2="127.9" stroke="#4e8a62" stroke-width="1.1"/>
<line x1="1571.2" y1="115.8" x2="1565" y2="115.8" stroke="#4e8a62" stroke-width="1.1"/>
<line x1="1571.2" y1="103.7" x2="1565" y2="103.7" stroke="#4e8a62" stroke-width="1.1"/>
<line x1="1571.2" y1="91.6" x2="1565" y2="91.6" stroke="#4e8a62" stroke-width="1.1"/>
<line x1="1571.2" y1="79.5" x2="1562.2" y2="79.5" stroke="#4e8a62" stroke-width="1.1"/>
<line x1="1571.2" y1="67.4" x2="1565" y2="67.4" stroke="#4e8a62" stroke-width="1.1"/>
<line x1="1571.2" y1="55.3" x2="1565" y2="55.3" stroke="#4e8a62" stroke-width="1.1"/>
<text transform="translate(1034,636.6) scale(1,1.04)" font-family="'Liberation Sans', Arial, Helvetica, sans-serif" font-size="35" fill="#231f20" text-anchor="middle">20</text>
<text transform="translate(1115.4,636.6) scale(1,1.04)" font-family="'Liberation Sans', Arial, Helvetica, sans-serif" font-size="35" fill="#231f20" text-anchor="middle">40</text>
<text transform="translate(1196.8,636.6) scale(1,1.04)" font-family="'Liberation Sans', Arial, Helvetica, sans-serif" font-size="35" fill="#231f20" text-anchor="middle">60</text>
<text transform="translate(1278.2,636.6) scale(1,1.04)" font-family="'Liberation Sans', Arial, Helvetica, sans-serif" font-size="35" fill="#231f20" text-anchor="middle">80</text>
<text transform="translate(1359.6,636.6) scale(1,1.04)" font-family="'Liberation Sans', Arial, Helvetica, sans-serif" font-size="35" fill="#231f20" text-anchor="middle">100</text>
<text transform="translate(1441,636.6) scale(1,1.04)" font-family="'Liberation Sans', Arial, Helvetica, sans-serif" font-size="35" fill="#231f20" text-anchor="middle">120</text>
<text transform="translate(1522.4,636.6) scale(1,1.04)" font-family="'Liberation Sans', Arial, Helvetica, sans-serif" font-size="35" fill="#231f20" text-anchor="middle">140</text>
<text transform="translate(951.5,94) scale(1,1.04)" font-family="'Liberation Sans', Arial, Helvetica, sans-serif" font-size="35" fill="#ec6b1d" text-anchor="end">0.7</text>
<text transform="translate(951.5,172.45) scale(1,1.04)" font-family="'Liberation Sans', Arial, Helvetica, sans-serif" font-size="35" fill="#ec6b1d" text-anchor="end">0.65</text>
<text transform="translate(951.5,250.9) scale(1,1.04)" font-family="'Liberation Sans', Arial, Helvetica, sans-serif" font-size="35" fill="#ec6b1d" text-anchor="end">0.6</text>
<text transform="translate(951.5,329.35) scale(1,1.04)" font-family="'Liberation Sans', Arial, Helvetica, sans-serif" font-size="35" fill="#ec6b1d" text-anchor="end">0.55</text>
<text transform="translate(951.5,407.8) scale(1,1.04)" font-family="'Liberation Sans', Arial, Helvetica, sans-serif" font-size="35" fill="#ec6b1d" text-anchor="end">0.5</text>
<text transform="translate(951.5,486.25) scale(1,1.04)" font-family="'Liberation Sans', Arial, Helvetica, sans-serif" font-size="35" fill="#ec6b1d" text-anchor="end">0.45</text>
<text transform="translate(951.5,564.7) scale(1,1.04)" font-family="'Liberation Sans', Arial, Helvetica, sans-serif" font-size="35" fill="#ec6b1d" text-anchor="end">0.4</text>
<text transform="translate(1585,517.3) scale(1,1.04)" font-family="'Liberation Sans', Arial, Helvetica, sans-serif" font-size="35" fill="#4e8a62" text-anchor="start">1</text>
<text transform="translate(1585,396.3) scale(1,1.04)" font-family="'Liberation Sans', Arial, Helvetica, sans-serif" font-size="35" fill="#4e8a62" text-anchor="start">2</text>
<text transform="translate(1585,275.3) scale(1,1.04)" font-family="'Liberation Sans', Arial, Helvetica, sans-serif" font-size="35" fill="#4e8a62" text-anchor="start">3</text>
<text transform="translate(1585,154.3) scale(1,1.04)" font-family="'Liberation Sans', Arial, Helvetica, sans-serif" font-size="35" fill="#4e8a62" text-anchor="start">4</text>
<text transform="translate(1261,680.2) scale(1,1.04)" font-family="'Liberation Sans', Arial, Helvetica, sans-serif" font-size="35" fill="#231f20" text-anchor="middle">Temperature [K]</text>
<text transform="translate(840.5,374.5) rotate(-90) scale(1,1.04)" font-family="'Liberation Sans', Arial, Helvetica, sans-serif" font-size="35" fill="#ec6b1d">C1 [<tspan font-family="&apos;Liberation Serif&apos;, &apos;Times New Roman&apos;, serif">μ</tspan><tspan font-size="17.5" font-weight="bold" dy="7">B</tspan><tspan dy="-7">]</tspan></text>
<text transform="translate(1674.5,374.5) rotate(-90) scale(1,1.04)" font-family="'Liberation Sans', Arial, Helvetica, sans-serif" font-size="35" fill="#4e8a62">C2 [<tspan font-family="&apos;Liberation Serif&apos;, &apos;Times New Roman&apos;, serif">μ</tspan><tspan font-size="17.5" font-weight="bold" dy="7">B</tspan><tspan dy="-7">]</tspan></text>
<line x1="379.3" y1="721.7" x2="379.3" y2="1256.4" stroke="#ff00ff" stroke-width="2.4" stroke-dasharray="19.2 9.6"/>
<path d="M147.7 1109.1V1157.3M142.45 1109.1h10.5M142.45 1157.3h10.5" stroke="#e2202a" stroke-width="1.6" fill="none"/>
<ellipse cx="147.7" cy="1133.2" rx="5.35" ry="5.85" fill="#e2202a"/>
<path d="M168.4 1130.8V1183.2M163.15 1130.8h10.5M163.15 1183.2h10.5" stroke="#e2202a" stroke-width="1.6" fill="none"/>
<ellipse cx="168.4" cy="1157.3" rx="5.35" ry="5.85" fill="#e2202a"/>
<path d="M208.9 1145.1V1202.8M203.65 1145.1h10.5M203.65 1202.8h10.5" stroke="#e2202a" stroke-width="1.6" fill="none"/>
<ellipse cx="208.9" cy="1174" rx="5.35" ry="5.85" fill="#e2202a"/>
<path d="M249.4 1166.8V1219.5M244.15 1166.8h10.5M244.15 1219.5h10.5" stroke="#e2202a" stroke-width="1.6" fill="none"/>
<ellipse cx="249.4" cy="1193.3" rx="5.35" ry="5.85" fill="#e2202a"/>
<path d="M290.2 1171.6V1229M284.95 1171.6h10.5M284.95 1229h10.5" stroke="#e2202a" stroke-width="1.6" fill="none"/>
<ellipse cx="290.2" cy="1200.4" rx="5.35" ry="5.85" fill="#e2202a"/>
<path d="M331 1157.3V1214.7M325.75 1157.3h10.5M325.75 1214.7h10.5" stroke="#e2202a" stroke-width="1.6" fill="none"/>
<ellipse cx="331" cy="1186.1" rx="5.35" ry="5.85" fill="#e2202a"/>
<path d="M351.1 1176V1229M345.85 1176h10.5M345.85 1229h10.5" stroke="#e2202a" stroke-width="1.6" fill="none"/>
<ellipse cx="351.1" cy="1202.8" rx="5.35" ry="5.85" fill="#e2202a"/>
<path d="M371.2 1168.9V1217.1M365.95 1168.9h10.5M365.95 1217.1h10.5" stroke="#e2202a" stroke-width="1.6" fill="none"/>
<ellipse cx="371.2" cy="1193.3" rx="5.35" ry="5.85" fill="#e2202a"/>
<path d="M391.8 1140.3V1198M386.55 1140.3h10.5M386.55 1198h10.5" stroke="#e2202a" stroke-width="1.6" fill="none"/>
<ellipse cx="391.8" cy="1168.9" rx="5.35" ry="5.85" fill="#e2202a"/>
<path d="M412 1140.3V1192.7M406.75 1140.3h10.5M406.75 1192.7h10.5" stroke="#e2202a" stroke-width="1.6" fill="none"/>
<ellipse cx="412" cy="1166.8" rx="5.35" ry="5.85" fill="#e2202a"/>
<path d="M432.1 1128.4V1181.4M426.85 1128.4h10.5M426.85 1181.4h10.5" stroke="#e2202a" stroke-width="1.6" fill="none"/>
<ellipse cx="432.1" cy="1154.9" rx="5.35" ry="5.85" fill="#e2202a"/>
<path d="M452.5 1097.2V1149.9M447.25 1097.2h10.5M447.25 1149.9h10.5" stroke="#e2202a" stroke-width="1.6" fill="none"/>
<ellipse cx="452.5" cy="1123.6" rx="5.35" ry="5.85" fill="#e2202a"/>
<path d="M472.9 1104.6V1157.3M467.65 1104.6h10.5M467.65 1157.3h10.5" stroke="#e2202a" stroke-width="1.6" fill="none"/>
<ellipse cx="472.9" cy="1130.8" rx="5.35" ry="5.85" fill="#e2202a"/>
<path d="M493.4 1047.4V1100M488.15 1047.4h10.5M488.15 1100h10.5" stroke="#e2202a" stroke-width="1.6" fill="none"/>
<ellipse cx="493.4" cy="1073.4" rx="5.35" ry="5.85" fill="#e2202a"/>
<path d="M534 1035.3V1088M528.75 1035.3h10.5M528.75 1088h10.5" stroke="#e2202a" stroke-width="1.6" fill="none"/>
<ellipse cx="534" cy="1061.6" rx="5.35" ry="5.85" fill="#e2202a"/>
<path d="M594.8 979.8V1032.7M589.55 979.8h10.5M589.55 1032.7h10.5" stroke="#e2202a" stroke-width="1.6" fill="none"/>
<ellipse cx="594.8" cy="1006.5" rx="5.35" ry="5.85" fill="#e2202a"/>
<path d="M615.2 917.8V970.5M609.95 917.8h10.5M609.95 970.5h10.5" stroke="#e2202a" stroke-width="1.6" fill="none"/>
<ellipse cx="615.2" cy="944.3" rx="5.35" ry="5.85" fill="#e2202a"/>
<path d="M635.6 894V946.7M630.35 894h10.5M630.35 946.7h10.5" stroke="#e2202a" stroke-width="1.6" fill="none"/>
<ellipse cx="635.6" cy="920.2" rx="5.35" ry="5.85" fill="#e2202a"/>
<path d="M655.7 853V905.7M650.45 853h10.5M650.45 905.7h10.5" stroke="#e2202a" stroke-width="1.6" fill="none"/>
<ellipse cx="655.7" cy="879.7" rx="5.35" ry="5.85" fill="#e2202a"/>
<path d="M676.1 829.7V877.3M670.85 829.7h10.5M670.85 877.3h10.5" stroke="#e2202a" stroke-width="1.6" fill="none"/>
<ellipse cx="676.1" cy="853.3" rx="5.35" ry="5.85" fill="#e2202a"/>
<path d="M696.5 774.6V827M691.25 774.6h10.5M691.25 827h10.5" stroke="#e2202a" stroke-width="1.6" fill="none"/>
<ellipse cx="696.5" cy="800.8" rx="5.35" ry="5.85" fill="#e2202a"/>
<path d="M737 745.8V798.5M731.75 745.8h10.5M731.75 798.5h10.5" stroke="#e2202a" stroke-width="1.6" fill="none"/>
<ellipse cx="737" cy="772" rx="5.35" ry="5.85" fill="#e2202a"/>
<text transform="translate(390,783.1) scale(1,1.04)" font-family="'Liberation Sans', Arial, Helvetica, sans-serif" font-size="48.5" fill="#ff00ff" text-anchor="start" font-style="italic">T</text>
<text transform="translate(417.7,794) scale(1,1.04)" font-family="'Liberation Serif', 'Times New Roman', serif" font-size="29" fill="#ff00ff" text-anchor="start">μ</text>
<text transform="translate(445.5,783.1) scale(1,1.04)" font-family="'Liberation Sans', Arial, Helvetica, sans-serif" font-size="48" fill="#ff00ff" text-anchor="start">≈</text>
<text transform="translate(483,783.1) scale(1,1.04)" font-family="'Liberation Sans', Arial, Helvetica, sans-serif" font-size="46.5" fill="#ff00ff" text-anchor="start">62 K</text>
<rect x="136.5" y="721.2" width="610.8" height="535.2" fill="none" stroke="#000" stroke-width="1.5"/>
<line x1="143.84" y1="1256.4" x2="143.84" y2="1249.2" stroke="#333" stroke-width="1.1"/>
<line x1="151.96" y1="1256.4" x2="151.96" y2="1249.2" stroke="#333" stroke-width="1.1"/>
<line x1="160.08" y1="1256.4" x2="160.08" y2="1249.2" stroke="#333" stroke-width="1.1"/>
<line x1="168.2" y1="1256.4" x2="168.2" y2="1246.4" stroke="#333" stroke-width="1.1"/>
<line x1="176.32" y1="1256.4" x2="176.32" y2="1249.2" stroke="#333" stroke-width="1.1"/>
<line x1="184.44" y1="1256.4" x2="184.44" y2="1249.2" stroke="#333" stroke-width="1.1"/>
<line x1="192.56" y1="1256.4" x2="192.56" y2="1249.2" stroke="#333" stroke-width="1.1"/>
<line x1="200.68" y1="1256.4" x2="200.68" y2="1249.2" stroke="#333" stroke-width="1.1"/>
<line x1="208.8" y1="1256.4" x2="208.8" y2="1243.4" stroke="#333" stroke-width="1.1"/>
<line x1="216.92" y1="1256.4" x2="216.92" y2="1249.2" stroke="#333" stroke-width="1.1"/>
<line x1="225.04" y1="1256.4" x2="225.04" y2="1249.2" stroke="#333" stroke-width="1.1"/>
<line x1="233.16" y1="1256.4" x2="233.16" y2="1249.2" stroke="#333" stroke-width="1.1"/>
<line x1="241.28" y1="1256.4" x2="241.28" y2="1249.2" stroke="#333" stroke-width="1.1"/>
<line x1="249.4" y1="1256.4" x2="249.4" y2="1246.4" stroke="#333" stroke-width="1.1"/>
<line x1="257.52" y1="1256.4" x2="257.52" y2="1249.2" stroke="#333" stroke-width="1.1"/>
<line x1="265.64" y1="1256.4" x2="265.64" y2="1249.2" stroke="#333" stroke-width="1.1"/>
<line x1="273.76" y1="1256.4" x2="273.76" y2="1249.2" stroke="#333" stroke-width="1.1"/>
<line x1="281.88" y1="1256.4" x2="281.88" y2="1249.2" stroke="#333" stroke-width="1.1"/>
<line x1="290" y1="1256.4" x2="290" y2="1243.4" stroke="#333" stroke-width="1.1"/>
<line x1="298.12" y1="1256.4" x2="298.12" y2="1249.2" stroke="#333" stroke-width="1.1"/>
<line x1="306.24" y1="1256.4" x2="306.24" y2="1249.2" stroke="#333" stroke-width="1.1"/>
<line x1="314.36" y1="1256.4" x2="314.36" y2="1249.2" stroke="#333" stroke-width="1.1"/>
<line x1="322.48" y1="1256.4" x2="322.48" y2="1249.2" stroke="#333" stroke-width="1.1"/>
<line x1="330.6" y1="1256.4" x2="330.6" y2="1246.4" stroke="#333" stroke-width="1.1"/>
<line x1="338.72" y1="1256.4" x2="338.72" y2="1249.2" stroke="#333" stroke-width="1.1"/>
<line x1="346.84" y1="1256.4" x2="346.84" y2="1249.2" stroke="#333" stroke-width="1.1"/>
<line x1="354.96" y1="1256.4" x2="354.96" y2="1249.2" stroke="#333" stroke-width="1.1"/>
<line x1="363.08" y1="1256.4" x2="363.08" y2="1249.2" stroke="#333" stroke-width="1.1"/>
<line x1="371.2" y1="1256.4" x2="371.2" y2="1243.4" stroke="#333" stroke-width="1.1"/>
<line x1="379.32" y1="1256.4" x2="379.32" y2="1249.2" stroke="#333" stroke-width="1.1"/>
<line x1="387.44" y1="1256.4" x2="387.44" y2="1249.2" stroke="#333" stroke-width="1.1"/>
<line x1="395.56" y1="1256.4" x2="395.56" y2="1249.2" stroke="#333" stroke-width="1.1"/>
<line x1="403.68" y1="1256.4" x2="403.68" y2="1249.2" stroke="#333" stroke-width="1.1"/>
<line x1="411.8" y1="1256.4" x2="411.8" y2="1246.4" stroke="#333" stroke-width="1.1"/>
<line x1="419.92" y1="1256.4" x2="419.92" y2="1249.2" stroke="#333" stroke-width="1.1"/>
<line x1="428.04" y1="1256.4" x2="428.04" y2="1249.2" stroke="#333" stroke-width="1.1"/>
<line x1="436.16" y1="1256.4" x2="436.16" y2="1249.2" stroke="#333" stroke-width="1.1"/>
<line x1="444.28" y1="1256.4" x2="444.28" y2="1249.2" stroke="#333" stroke-width="1.1"/>
<line x1="452.4" y1="1256.4" x2="452.4" y2="1243.4" stroke="#333" stroke-width="1.1"/>
<line x1="460.52" y1="1256.4" x2="460.52" y2="1249.2" stroke="#333" stroke-width="1.1"/>
<line x1="468.64" y1="1256.4" x2="468.64" y2="1249.2" stroke="#333" stroke-width="1.1"/>
<line x1="476.76" y1="1256.4" x2="476.76" y2="1249.2" stroke="#333" stroke-width="1.1"/>
<line x1="484.88" y1="1256.4" x2="484.88" y2="1249.2" stroke="#333" stroke-width="1.1"/>
<line x1="493" y1="1256.4" x2="493" y2="1246.4" stroke="#333" stroke-width="1.1"/>
<line x1="501.12" y1="1256.4" x2="501.12" y2="1249.2" stroke="#333" stroke-width="1.1"/>
<line x1="509.24" y1="1256.4" x2="509.24" y2="1249.2" stroke="#333" stroke-width="1.1"/>
<line x1="517.36" y1="1256.4" x2="517.36" y2="1249.2" stroke="#333" stroke-width="1.1"/>
<line x1="525.48" y1="1256.4" x2="525.48" y2="1249.2" stroke="#333" stroke-width="1.1"/>
<line x1="533.6" y1="1256.4" x2="533.6" y2="1243.4" stroke="#333" stroke-width="1.1"/>
<line x1="541.72" y1="1256.4" x2="541.72" y2="1249.2" stroke="#333" stroke-width="1.1"/>
<line x1="549.84" y1="1256.4" x2="549.84" y2="1249.2" stroke="#333" stroke-width="1.1"/>
<line x1="557.96" y1="1256.4" x2="557.96" y2="1249.2" stroke="#333" stroke-width="1.1"/>
<line x1="566.08" y1="1256.4" x2="566.08" y2="1249.2" stroke="#333" stroke-width="1.1"/>
<line x1="574.2" y1="1256.4" x2="574.2" y2="1246.4" stroke="#333" stroke-width="1.1"/>
<line x1="582.32" y1="1256.4" x2="582.32" y2="1249.2" stroke="#333" stroke-width="1.1"/>
<line x1="590.44" y1="1256.4" x2="590.44" y2="1249.2" stroke="#333" stroke-width="1.1"/>
<line x1="598.56" y1="1256.4" x2="598.56" y2="1249.2" stroke="#333" stroke-width="1.1"/>
<line x1="606.68" y1="1256.4" x2="606.68" y2="1249.2" stroke="#333" stroke-width="1.1"/>
<line x1="614.8" y1="1256.4" x2="614.8" y2="1243.4" stroke="#333" stroke-width="1.1"/>
<line x1="622.92" y1="1256.4" x2="622.92" y2="1249.2" stroke="#333" stroke-width="1.1"/>
<line x1="631.04" y1="1256.4" x2="631.04" y2="1249.2" stroke="#333" stroke-width="1.1"/>
<line x1="639.16" y1="1256.4" x2="639.16" y2="1249.2" stroke="#333" stroke-width="1.1"/>
<line x1="647.28" y1="1256.4" x2="647.28" y2="1249.2" stroke="#333" stroke-width="1.1"/>
<line x1="655.4" y1="1256.4" x2="655.4" y2="1246.4" stroke="#333" stroke-width="1.1"/>
<line x1="663.52" y1="1256.4" x2="663.52" y2="1249.2" stroke="#333" stroke-width="1.1"/>
<line x1="671.64" y1="1256.4" x2="671.64" y2="1249.2" stroke="#333" stroke-width="1.1"/>
<line x1="679.76" y1="1256.4" x2="679.76" y2="1249.2" stroke="#333" stroke-width="1.1"/>
<line x1="687.88" y1="1256.4" x2="687.88" y2="1249.2" stroke="#333" stroke-width="1.1"/>
<line x1="696" y1="1256.4" x2="696" y2="1243.4" stroke="#333" stroke-width="1.1"/>
<line x1="704.12" y1="1256.4" x2="704.12" y2="1249.2" stroke="#333" stroke-width="1.1"/>
<line x1="712.24" y1="1256.4" x2="712.24" y2="1249.2" stroke="#333" stroke-width="1.1"/>
<line x1="720.36" y1="1256.4" x2="720.36" y2="1249.2" stroke="#333" stroke-width="1.1"/>
<line x1="728.48" y1="1256.4" x2="728.48" y2="1249.2" stroke="#333" stroke-width="1.1"/>
<line x1="736.6" y1="1256.4" x2="736.6" y2="1246.4" stroke="#333" stroke-width="1.1"/>
<line x1="136.5" y1="1248.3" x2="148.4" y2="1248.3" stroke="#222" stroke-width="1.1"/>
<line x1="136.5" y1="1224.34" x2="142.8" y2="1224.34" stroke="#222" stroke-width="1.1"/>
<line x1="136.5" y1="1200.38" x2="142.8" y2="1200.38" stroke="#222" stroke-width="1.1"/>
<line x1="136.5" y1="1176.42" x2="142.8" y2="1176.42" stroke="#222" stroke-width="1.1"/>
<line x1="136.5" y1="1152.46" x2="142.8" y2="1152.46" stroke="#222" stroke-width="1.1"/>
<line x1="136.5" y1="1128.5" x2="142.8" y2="1128.5" stroke="#222" stroke-width="1.1"/>
<line x1="136.5" y1="1104.54" x2="142.8" y2="1104.54" stroke="#222" stroke-width="1.1"/>
<line x1="136.5" y1="1080.58" x2="142.8" y2="1080.58" stroke="#222" stroke-width="1.1"/>
<line x1="136.5" y1="1056.62" x2="142.8" y2="1056.62" stroke="#222" stroke-width="1.1"/>
<line x1="136.5" y1="1032.66" x2="142.8" y2="1032.66" stroke="#222" stroke-width="1.1"/>
<line x1="136.5" y1="1008.7" x2="148.4" y2="1008.7" stroke="#222" stroke-width="1.1"/>
<line x1="136.5" y1="984.74" x2="142.8" y2="984.74" stroke="#222" stroke-width="1.1"/>
<line x1="136.5" y1="960.78" x2="142.8" y2="960.78" stroke="#222" stroke-width="1.1"/>
<line x1="136.5" y1="936.82" x2="142.8" y2="936.82" stroke="#222" stroke-width="1.1"/>
<line x1="136.5" y1="912.86" x2="142.8" y2="912.86" stroke="#222" stroke-width="1.1"/>
<line x1="136.5" y1="888.9" x2="142.8" y2="888.9" stroke="#222" stroke-width="1.1"/>
<line x1="136.5" y1="864.94" x2="142.8" y2="864.94" stroke="#222" stroke-width="1.1"/>
<line x1="136.5" y1="840.98" x2="142.8" y2="840.98" stroke="#222" stroke-width="1.1"/>
<line x1="136.5" y1="817.02" x2="142.8" y2="817.02" stroke="#222" stroke-width="1.1"/>
<line x1="136.5" y1="793.06" x2="142.8" y2="793.06" stroke="#222" stroke-width="1.1"/>
<line x1="136.5" y1="769.1" x2="148.4" y2="769.1" stroke="#222" stroke-width="1.1"/>
<line x1="136.5" y1="745.14" x2="142.8" y2="745.14" stroke="#222" stroke-width="1.1"/>
<text transform="translate(208.8,1299.3) scale(1,1.04)" font-family="'Liberation Sans', Arial, Helvetica, sans-serif" font-size="35" fill="#231f20" text-anchor="middle">20</text>
<text transform="translate(290,1299.3) scale(1,1.04)" font-family="'Liberation Sans', Arial, Helvetica, sans-serif" font-size="35" fill="#231f20" text-anchor="middle">40</text>
<text transform="translate(371.2,1299.3) scale(1,1.04)" font-family="'Liberation Sans', Arial, Helvetica, sans-serif" font-size="35" fill="#231f20" text-anchor="middle">60</text>
<text transform="translate(452.4,1299.3) scale(1,1.04)" font-family="'Liberation Sans', Arial, Helvetica, sans-serif" font-size="35" fill="#231f20" text-anchor="middle">80</text>
<text transform="translate(533.6,1299.3) scale(1,1.04)" font-family="'Liberation Sans', Arial, Helvetica, sans-serif" font-size="35" fill="#231f20" text-anchor="middle">100</text>
<text transform="translate(614.8,1299.3) scale(1,1.04)" font-family="'Liberation Sans', Arial, Helvetica, sans-serif" font-size="35" fill="#231f20" text-anchor="middle">120</text>
<text transform="translate(696,1299.3) scale(1,1.04)" font-family="'Liberation Sans', Arial, Helvetica, sans-serif" font-size="35" fill="#231f20" text-anchor="middle">140</text>
<text transform="translate(123.4,1260.3) scale(1,1.04)" font-family="'Liberation Sans', Arial, Helvetica, sans-serif" font-size="31" fill="#231f20" text-anchor="end">9.030</text>
<text transform="translate(123.4,1020.7) scale(1,1.04)" font-family="'Liberation Sans', Arial, Helvetica, sans-serif" font-size="31" fill="#231f20" text-anchor="end">9.031</text>
<text transform="translate(123.4,781.1) scale(1,1.04)" font-family="'Liberation Sans', Arial, Helvetica, sans-serif" font-size="31" fill="#231f20" text-anchor="end">9.032</text>
<text transform="translate(441,1353.9) scale(1,1.04)" font-family="'Liberation Sans', Arial, Helvetica, sans-serif" font-size="35" fill="#231f20" text-anchor="middle">Temperature [K]</text>
<text transform="translate(30.7,1061.5) rotate(-90) scale(1,1.04)" font-family="'Liberation Sans', Arial, Helvetica, sans-serif" font-size="35" fill="#231f20">a-axis [Å]</text>
<line x1="1481.5" y1="721.7" x2="1481.5" y2="1255.5" stroke="#009fe3" stroke-width="2.3" stroke-dasharray="18.6 6.3"/>
<path d="M993.8 805.7V815.9M987.8 805.7h12M987.8 815.9h12" stroke="#322c8a" stroke-width="1.5" fill="none"/>
<ellipse cx="993.8" cy="810.8" rx="5.9" ry="5.6" fill="#322c8a"/>
<path d="M1034.5 824.5V834.7M1028.5 824.5h12M1028.5 834.7h12" stroke="#322c8a" stroke-width="1.5" fill="none"/>
<ellipse cx="1034.5" cy="829.6" rx="5.9" ry="5.6" fill="#322c8a"/>
<path d="M1075.3 829.2V839.4M1069.3 829.2h12M1069.3 839.4h12" stroke="#322c8a" stroke-width="1.5" fill="none"/>
<ellipse cx="1075.3" cy="834.3" rx="5.9" ry="5.6" fill="#322c8a"/>
<path d="M1115.8 839.3V849.5M1109.8 839.3h12M1109.8 849.5h12" stroke="#322c8a" stroke-width="1.5" fill="none"/>
<ellipse cx="1115.8" cy="844.4" rx="5.9" ry="5.6" fill="#322c8a"/>
<path d="M1156.5 851.2V861.4M1150.5 851.2h12M1150.5 861.4h12" stroke="#322c8a" stroke-width="1.5" fill="none"/>
<ellipse cx="1156.5" cy="856.3" rx="5.9" ry="5.6" fill="#322c8a"/>
<path d="M1176.4 857.8V868M1170.4 857.8h12M1170.4 868h12" stroke="#322c8a" stroke-width="1.5" fill="none"/>
<ellipse cx="1176.4" cy="862.9" rx="5.9" ry="5.6" fill="#322c8a"/>
<path d="M1197 864.5V874.7M1191 864.5h12M1191 874.7h12" stroke="#322c8a" stroke-width="1.5" fill="none"/>
<ellipse cx="1197" cy="869.6" rx="5.9" ry="5.6" fill="#322c8a"/>
<path d="M1217.4 888.2V898.4M1211.4 888.2h12M1211.4 898.4h12" stroke="#322c8a" stroke-width="1.5" fill="none"/>
<ellipse cx="1217.4" cy="893.3" rx="5.9" ry="5.6" fill="#322c8a"/>
<path d="M1237.5 888.2V898.4M1231.5 888.2h12M1231.5 898.4h12" stroke="#322c8a" stroke-width="1.5" fill="none"/>
<ellipse cx="1237.5" cy="893.3" rx="5.9" ry="5.6" fill="#322c8a"/>
<path d="M1257.8 908.5V918.7M1251.8 908.5h12M1251.8 918.7h12" stroke="#322c8a" stroke-width="1.5" fill="none"/>
<ellipse cx="1257.8" cy="913.6" rx="5.9" ry="5.6" fill="#322c8a"/>
<path d="M1278.2 903.4V913.6M1272.2 903.4h12M1272.2 913.6h12" stroke="#322c8a" stroke-width="1.5" fill="none"/>
<ellipse cx="1278.2" cy="908.5" rx="5.9" ry="5.6" fill="#322c8a"/>
<path d="M1298.3 920.1V930.3M1292.3 920.1h12M1292.3 930.3h12" stroke="#322c8a" stroke-width="1.5" fill="none"/>
<ellipse cx="1298.3" cy="925.2" rx="5.9" ry="5.6" fill="#322c8a"/>
<path d="M1319 926.8V937M1313 926.8h12M1313 937h12" stroke="#322c8a" stroke-width="1.5" fill="none"/>
<ellipse cx="1319" cy="931.9" rx="5.9" ry="5.6" fill="#322c8a"/>
<path d="M1359.8 953.6V963.8M1353.8 953.6h12M1353.8 963.8h12" stroke="#322c8a" stroke-width="1.5" fill="none"/>
<ellipse cx="1359.8" cy="958.7" rx="5.9" ry="5.6" fill="#322c8a"/>
<path d="M1420.7 997.7V1007.9M1414.7 997.7h12M1414.7 1007.9h12" stroke="#322c8a" stroke-width="1.5" fill="none"/>
<ellipse cx="1420.7" cy="1002.8" rx="5.9" ry="5.6" fill="#322c8a"/>
<path d="M1440.8 1036.1V1046.3M1434.8 1036.1h12M1434.8 1046.3h12" stroke="#322c8a" stroke-width="1.5" fill="none"/>
<ellipse cx="1440.8" cy="1041.2" rx="5.9" ry="5.6" fill="#322c8a"/>
<path d="M1460.9 1076.1V1086.3M1454.9 1076.1h12M1454.9 1086.3h12" stroke="#322c8a" stroke-width="1.5" fill="none"/>
<ellipse cx="1460.9" cy="1081.2" rx="5.9" ry="5.6" fill="#322c8a"/>
<path d="M1481.3 1145V1155.2M1475.3 1145h12M1475.3 1155.2h12" stroke="#322c8a" stroke-width="1.5" fill="none"/>
<ellipse cx="1481.3" cy="1150.1" rx="5.9" ry="5.6" fill="#322c8a"/>
<path d="M1501.4 1158.5V1168.7M1495.4 1158.5h12M1495.4 1168.7h12" stroke="#322c8a" stroke-width="1.5" fill="none"/>
<ellipse cx="1501.4" cy="1163.6" rx="5.9" ry="5.6" fill="#322c8a"/>
<path d="M1521.8 1186.8V1197M1515.8 1186.8h12M1515.8 1197h12" stroke="#322c8a" stroke-width="1.5" fill="none"/>
<ellipse cx="1521.8" cy="1191.9" rx="5.9" ry="5.6" fill="#322c8a"/>
<path d="M1562.5 1215.2V1225.4M1556.5 1215.2h12M1556.5 1225.4h12" stroke="#322c8a" stroke-width="1.5" fill="none"/>
<ellipse cx="1562.5" cy="1220.3" rx="5.9" ry="5.6" fill="#322c8a"/>
<path d="M994 1086.1V1094.9M988 1086.1h12M988 1094.9h12" stroke="#e8126f" stroke-width="1.5" fill="none"/>
<ellipse cx="994" cy="1090.5" rx="5.9" ry="6.1" fill="#e8126f"/>
<path d="M1034.5 1085.1V1093.9M1028.5 1085.1h12M1028.5 1093.9h12" stroke="#e8126f" stroke-width="1.5" fill="none"/>
<ellipse cx="1034.5" cy="1089.5" rx="5.9" ry="6.1" fill="#e8126f"/>
<path d="M1075.3 1079.8V1088.6M1069.3 1079.8h12M1069.3 1088.6h12" stroke="#e8126f" stroke-width="1.5" fill="none"/>
<ellipse cx="1075.3" cy="1084.2" rx="5.9" ry="6.1" fill="#e8126f"/>
<path d="M1115.3 1075V1083.8M1109.3 1075h12M1109.3 1083.8h12" stroke="#e8126f" stroke-width="1.5" fill="none"/>
<ellipse cx="1115.3" cy="1079.4" rx="5.9" ry="6.1" fill="#e8126f"/>
<path d="M1156.5 1067.9V1076.7M1150.5 1067.9h12M1150.5 1076.7h12" stroke="#e8126f" stroke-width="1.5" fill="none"/>
<ellipse cx="1156.5" cy="1072.3" rx="5.9" ry="6.1" fill="#e8126f"/>
<path d="M1176.4 1063.6V1072.4M1170.4 1063.6h12M1170.4 1072.4h12" stroke="#e8126f" stroke-width="1.5" fill="none"/>
<ellipse cx="1176.4" cy="1068" rx="5.9" ry="6.1" fill="#e8126f"/>
<path d="M1196.8 1059.1V1067.9M1190.8 1059.1h12M1190.8 1067.9h12" stroke="#e8126f" stroke-width="1.5" fill="none"/>
<ellipse cx="1196.8" cy="1063.5" rx="5.9" ry="6.1" fill="#e8126f"/>
<path d="M1217.4 1051V1059.8M1211.4 1051h12M1211.4 1059.8h12" stroke="#e8126f" stroke-width="1.5" fill="none"/>
<ellipse cx="1217.4" cy="1055.4" rx="5.9" ry="6.1" fill="#e8126f"/>
<path d="M1237.5 1045.5V1054.3M1231.5 1045.5h12M1231.5 1054.3h12" stroke="#e8126f" stroke-width="1.5" fill="none"/>
<ellipse cx="1237.5" cy="1049.9" rx="5.9" ry="6.1" fill="#e8126f"/>
<path d="M1257.8 1038.5V1047.3M1251.8 1038.5h12M1251.8 1047.3h12" stroke="#e8126f" stroke-width="1.5" fill="none"/>
<ellipse cx="1257.8" cy="1042.9" rx="5.9" ry="6.1" fill="#e8126f"/>
<path d="M1278.3 1032.6V1041.4M1272.3 1032.6h12M1272.3 1041.4h12" stroke="#e8126f" stroke-width="1.5" fill="none"/>
<ellipse cx="1278.3" cy="1037" rx="5.9" ry="6.1" fill="#e8126f"/>
<path d="M1298.5 1023.1V1031.9M1292.5 1023.1h12M1292.5 1031.9h12" stroke="#e8126f" stroke-width="1.5" fill="none"/>
<ellipse cx="1298.5" cy="1027.5" rx="5.9" ry="6.1" fill="#e8126f"/>
<path d="M1318.8 1012.7V1021.5M1312.8 1012.7h12M1312.8 1021.5h12" stroke="#e8126f" stroke-width="1.5" fill="none"/>
<ellipse cx="1318.8" cy="1017.1" rx="5.9" ry="6.1" fill="#e8126f"/>
<path d="M1359.6 990.8V999.6M1353.6 990.8h12M1353.6 999.6h12" stroke="#e8126f" stroke-width="1.5" fill="none"/>
<ellipse cx="1359.6" cy="995.2" rx="5.9" ry="6.1" fill="#e8126f"/>
<path d="M1420 957.3V966.1M1414 957.3h12M1414 966.1h12" stroke="#e8126f" stroke-width="1.5" fill="none"/>
<ellipse cx="1420" cy="961.7" rx="5.9" ry="6.1" fill="#e8126f"/>
<path d="M1440.4 921.4V930.2M1434.4 921.4h12M1434.4 930.2h12" stroke="#e8126f" stroke-width="1.5" fill="none"/>
<ellipse cx="1440.4" cy="925.8" rx="5.9" ry="6.1" fill="#e8126f"/>
<path d="M1460.8 890.1V898.9M1454.8 890.1h12M1454.8 898.9h12" stroke="#e8126f" stroke-width="1.5" fill="none"/>
<ellipse cx="1460.8" cy="894.5" rx="5.9" ry="6.1" fill="#e8126f"/>
<path d="M1481.5 836.5V845.3M1475.5 836.5h12M1475.5 845.3h12" stroke="#e8126f" stroke-width="1.5" fill="none"/>
<ellipse cx="1481.5" cy="840.9" rx="5.9" ry="6.1" fill="#e8126f"/>
<path d="M1501.3 817.9V826.7M1495.3 817.9h12M1495.3 826.7h12" stroke="#e8126f" stroke-width="1.5" fill="none"/>
<ellipse cx="1501.3" cy="822.3" rx="5.9" ry="6.1" fill="#e8126f"/>
<path d="M1521.7 789.3V798.1M1515.7 789.3h12M1515.7 798.1h12" stroke="#e8126f" stroke-width="1.5" fill="none"/>
<ellipse cx="1521.7" cy="793.7" rx="5.9" ry="6.1" fill="#e8126f"/>
<path d="M1562.5 757.1V765.9M1556.5 757.1h12M1556.5 765.9h12" stroke="#e8126f" stroke-width="1.5" fill="none"/>
<ellipse cx="1562.5" cy="761.5" rx="5.9" ry="6.1" fill="#e8126f"/>
<text transform="translate(1494.3,770.6) scale(1,1.04)" font-family="'Liberation Sans', Arial, Helvetica, sans-serif" font-size="48" fill="#009fe3" text-anchor="start" font-style="italic">T</text>
<text transform="translate(1523.5,777.4) scale(1,1.04)" font-family="'Liberation Sans', Arial, Helvetica, sans-serif" font-size="20.5" fill="#009fe3" text-anchor="start" font-weight="bold" stroke="#009fe3" stroke-width="0.5">N</text>
<line x1="961.5" y1="721.2" x2="1570.8" y2="721.2" stroke="#000" stroke-width="1.5"/>
<line x1="961.5" y1="1255.5" x2="1570.8" y2="1255.5" stroke="#222" stroke-width="1.4"/>
<line x1="961.5" y1="721.2" x2="961.5" y2="1256.1" stroke="#322c8a" stroke-width="1.8"/>
<line x1="1570.8" y1="721.2" x2="1570.8" y2="1256.1" stroke="#e8126f" stroke-width="2.0"/>
<line x1="968.88" y1="1255.5" x2="968.88" y2="1248.3" stroke="#333" stroke-width="1.1"/>
<line x1="977.02" y1="1255.5" x2="977.02" y2="1248.3" stroke="#333" stroke-width="1.1"/>
<line x1="985.16" y1="1255.5" x2="985.16" y2="1248.3" stroke="#333" stroke-width="1.1"/>
<line x1="993.3" y1="1255.5" x2="993.3" y2="1245.5" stroke="#333" stroke-width="1.1"/>
<line x1="1001.44" y1="1255.5" x2="1001.44" y2="1248.3" stroke="#333" stroke-width="1.1"/>
<line x1="1009.58" y1="1255.5" x2="1009.58" y2="1248.3" stroke="#333" stroke-width="1.1"/>
<line x1="1017.72" y1="1255.5" x2="1017.72" y2="1248.3" stroke="#333" stroke-width="1.1"/>
<line x1="1025.86" y1="1255.5" x2="1025.86" y2="1248.3" stroke="#333" stroke-width="1.1"/>
<line x1="1034" y1="1255.5" x2="1034" y2="1242.5" stroke="#333" stroke-width="1.1"/>
<line x1="1042.14" y1="1255.5" x2="1042.14" y2="1248.3" stroke="#333" stroke-width="1.1"/>
<line x1="1050.28" y1="1255.5" x2="1050.28" y2="1248.3" stroke="#333" stroke-width="1.1"/>
<line x1="1058.42" y1="1255.5" x2="1058.42" y2="1248.3" stroke="#333" stroke-width="1.1"/>
<line x1="1066.56" y1="1255.5" x2="1066.56" y2="1248.3" stroke="#333" stroke-width="1.1"/>
<line x1="1074.7" y1="1255.5" x2="1074.7" y2="1245.5" stroke="#333" stroke-width="1.1"/>
<line x1="1082.84" y1="1255.5" x2="1082.84" y2="1248.3" stroke="#333" stroke-width="1.1"/>
<line x1="1090.98" y1="1255.5" x2="1090.98" y2="1248.3" stroke="#333" stroke-width="1.1"/>
<line x1="1099.12" y1="1255.5" x2="1099.12" y2="1248.3" stroke="#333" stroke-width="1.1"/>
<line x1="1107.26" y1="1255.5" x2="1107.26" y2="1248.3" stroke="#333" stroke-width="1.1"/>
<line x1="1115.4" y1="1255.5" x2="1115.4" y2="1242.5" stroke="#333" stroke-width="1.1"/>
<line x1="1123.54" y1="1255.5" x2="1123.54" y2="1248.3" stroke="#333" stroke-width="1.1"/>
<line x1="1131.68" y1="1255.5" x2="1131.68" y2="1248.3" stroke="#333" stroke-width="1.1"/>
<line x1="1139.82" y1="1255.5" x2="1139.82" y2="1248.3" stroke="#333" stroke-width="1.1"/>
<line x1="1147.96" y1="1255.5" x2="1147.96" y2="1248.3" stroke="#333" stroke-width="1.1"/>
<line x1="1156.1" y1="1255.5" x2="1156.1" y2="1245.5" stroke="#333" stroke-width="1.1"/>
<line x1="1164.24" y1="1255.5" x2="1164.24" y2="1248.3" stroke="#333" stroke-width="1.1"/>
<line x1="1172.38" y1="1255.5" x2="1172.38" y2="1248.3" stroke="#333" stroke-width="1.1"/>
<line x1="1180.52" y1="1255.5" x2="1180.52" y2="1248.3" stroke="#333" stroke-width="1.1"/>
<line x1="1188.66" y1="1255.5" x2="1188.66" y2="1248.3" stroke="#333" stroke-width="1.1"/>
<line x1="1196.8" y1="1255.5" x2="1196.8" y2="1242.5" stroke="#333" stroke-width="1.1"/>
<line x1="1204.94" y1="1255.5" x2="1204.94" y2="1248.3" stroke="#333" stroke-width="1.1"/>
<line x1="1213.08" y1="1255.5" x2="1213.08" y2="1248.3" stroke="#333" stroke-width="1.1"/>
<line x1="1221.22" y1="1255.5" x2="1221.22" y2="1248.3" stroke="#333" stroke-width="1.1"/>
<line x1="1229.36" y1="1255.5" x2="1229.36" y2="1248.3" stroke="#333" stroke-width="1.1"/>
<line x1="1237.5" y1="1255.5" x2="1237.5" y2="1245.5" stroke="#333" stroke-width="1.1"/>
<line x1="1245.64" y1="1255.5" x2="1245.64" y2="1248.3" stroke="#333" stroke-width="1.1"/>
<line x1="1253.78" y1="1255.5" x2="1253.78" y2="1248.3" stroke="#333" stroke-width="1.1"/>
<line x1="1261.92" y1="1255.5" x2="1261.92" y2="1248.3" stroke="#333" stroke-width="1.1"/>
<line x1="1270.06" y1="1255.5" x2="1270.06" y2="1248.3" stroke="#333" stroke-width="1.1"/>
<line x1="1278.2" y1="1255.5" x2="1278.2" y2="1242.5" stroke="#333" stroke-width="1.1"/>
<line x1="1286.34" y1="1255.5" x2="1286.34" y2="1248.3" stroke="#333" stroke-width="1.1"/>
<line x1="1294.48" y1="1255.5" x2="1294.48" y2="1248.3" stroke="#333" stroke-width="1.1"/>
<line x1="1302.62" y1="1255.5" x2="1302.62" y2="1248.3" stroke="#333" stroke-width="1.1"/>
<line x1="1310.76" y1="1255.5" x2="1310.76" y2="1248.3" stroke="#333" stroke-width="1.1"/>
<line x1="1318.9" y1="1255.5" x2="1318.9" y2="1245.5" stroke="#333" stroke-width="1.1"/>
<line x1="1327.04" y1="1255.5" x2="1327.04" y2="1248.3" stroke="#333" stroke-width="1.1"/>
<line x1="1335.18" y1="1255.5" x2="1335.18" y2="1248.3" stroke="#333" stroke-width="1.1"/>
<line x1="1343.32" y1="1255.5" x2="1343.32" y2="1248.3" stroke="#333" stroke-width="1.1"/>
<line x1="1351.46" y1="1255.5" x2="1351.46" y2="1248.3" stroke="#333" stroke-width="1.1"/>
<line x1="1359.6" y1="1255.5" x2="1359.6" y2="1242.5" stroke="#333" stroke-width="1.1"/>
<line x1="1367.74" y1="1255.5" x2="1367.74" y2="1248.3" stroke="#333" stroke-width="1.1"/>
<line x1="1375.88" y1="1255.5" x2="1375.88" y2="1248.3" stroke="#333" stroke-width="1.1"/>
<line x1="1384.02" y1="1255.5" x2="1384.02" y2="1248.3" stroke="#333" stroke-width="1.1"/>
<line x1="1392.16" y1="1255.5" x2="1392.16" y2="1248.3" stroke="#333" stroke-width="1.1"/>
<line x1="1400.3" y1="1255.5" x2="1400.3" y2="1245.5" stroke="#333" stroke-width="1.1"/>
<line x1="1408.44" y1="1255.5" x2="1408.44" y2="1248.3" stroke="#333" stroke-width="1.1"/>
<line x1="1416.58" y1="1255.5" x2="1416.58" y2="1248.3" stroke="#333" stroke-width="1.1"/>
<line x1="1424.72" y1="1255.5" x2="1424.72" y2="1248.3" stroke="#333" stroke-width="1.1"/>
<line x1="1432.86" y1="1255.5" x2="1432.86" y2="1248.3" stroke="#333" stroke-width="1.1"/>
<line x1="1441" y1="1255.5" x2="1441" y2="1242.5" stroke="#333" stroke-width="1.1"/>
<line x1="1449.14" y1="1255.5" x2="1449.14" y2="1248.3" stroke="#333" stroke-width="1.1"/>
<line x1="1457.28" y1="1255.5" x2="1457.28" y2="1248.3" stroke="#333" stroke-width="1.1"/>
<line x1="1465.42" y1="1255.5" x2="1465.42" y2="1248.3" stroke="#333" stroke-width="1.1"/>
<line x1="1473.56" y1="1255.5" x2="1473.56" y2="1248.3" stroke="#333" stroke-width="1.1"/>
<line x1="1481.7" y1="1255.5" x2="1481.7" y2="1245.5" stroke="#333" stroke-width="1.1"/>
<line x1="1489.84" y1="1255.5" x2="1489.84" y2="1248.3" stroke="#333" stroke-width="1.1"/>
<line x1="1497.98" y1="1255.5" x2="1497.98" y2="1248.3" stroke="#333" stroke-width="1.1"/>
<line x1="1506.12" y1="1255.5" x2="1506.12" y2="1248.3" stroke="#333" stroke-width="1.1"/>
<line x1="1514.26" y1="1255.5" x2="1514.26" y2="1248.3" stroke="#333" stroke-width="1.1"/>
<line x1="1522.4" y1="1255.5" x2="1522.4" y2="1242.5" stroke="#333" stroke-width="1.1"/>
<line x1="1530.54" y1="1255.5" x2="1530.54" y2="1248.3" stroke="#333" stroke-width="1.1"/>
<line x1="1538.68" y1="1255.5" x2="1538.68" y2="1248.3" stroke="#333" stroke-width="1.1"/>
<line x1="1546.82" y1="1255.5" x2="1546.82" y2="1248.3" stroke="#333" stroke-width="1.1"/>
<line x1="1554.96" y1="1255.5" x2="1554.96" y2="1248.3" stroke="#333" stroke-width="1.1"/>
<line x1="1563.1" y1="1255.5" x2="1563.1" y2="1245.5" stroke="#333" stroke-width="1.1"/>
<line x1="961.5" y1="1247.01" x2="968.4" y2="1247.01" stroke="#322c8a" stroke-width="1.1"/>
<line x1="961.5" y1="1230.24" x2="968.4" y2="1230.24" stroke="#322c8a" stroke-width="1.1"/>
<line x1="961.5" y1="1213.47" x2="968.4" y2="1213.47" stroke="#322c8a" stroke-width="1.1"/>
<line x1="961.5" y1="1196.7" x2="974.7" y2="1196.7" stroke="#322c8a" stroke-width="1.1"/>
<line x1="961.5" y1="1179.93" x2="968.4" y2="1179.93" stroke="#322c8a" stroke-width="1.1"/>
<line x1="961.5" y1="1163.16" x2="968.4" y2="1163.16" stroke="#322c8a" stroke-width="1.1"/>
<line x1="961.5" y1="1146.39" x2="968.4" y2="1146.39" stroke="#322c8a" stroke-width="1.1"/>
<line x1="961.5" y1="1129.62" x2="968.4" y2="1129.62" stroke="#322c8a" stroke-width="1.1"/>
<line x1="961.5" y1="1112.85" x2="968.4" y2="1112.85" stroke="#322c8a" stroke-width="1.1"/>
<line x1="961.5" y1="1096.08" x2="968.4" y2="1096.08" stroke="#322c8a" stroke-width="1.1"/>
<line x1="961.5" y1="1079.31" x2="968.4" y2="1079.31" stroke="#322c8a" stroke-width="1.1"/>
<line x1="961.5" y1="1062.54" x2="968.4" y2="1062.54" stroke="#322c8a" stroke-width="1.1"/>
<line x1="961.5" y1="1045.77" x2="968.4" y2="1045.77" stroke="#322c8a" stroke-width="1.1"/>
<line x1="961.5" y1="1029" x2="974.7" y2="1029" stroke="#322c8a" stroke-width="1.1"/>
<line x1="961.5" y1="1012.23" x2="968.4" y2="1012.23" stroke="#322c8a" stroke-width="1.1"/>
<line x1="961.5" y1="995.46" x2="968.4" y2="995.46" stroke="#322c8a" stroke-width="1.1"/>
<line x1="961.5" y1="978.69" x2="968.4" y2="978.69" stroke="#322c8a" stroke-width="1.1"/>
<line x1="961.5" y1="961.92" x2="968.4" y2="961.92" stroke="#322c8a" stroke-width="1.1"/>
<line x1="961.5" y1="945.15" x2="968.4" y2="945.15" stroke="#322c8a" stroke-width="1.1"/>
<line x1="961.5" y1="928.38" x2="968.4" y2="928.38" stroke="#322c8a" stroke-width="1.1"/>
<line x1="961.5" y1="911.61" x2="968.4" y2="911.61" stroke="#322c8a" stroke-width="1.1"/>
<line x1="961.5" y1="894.84" x2="968.4" y2="894.84" stroke="#322c8a" stroke-width="1.1"/>
<line x1="961.5" y1="878.07" x2="968.4" y2="878.07" stroke="#322c8a" stroke-width="1.1"/>
<line x1="961.5" y1="861.3" x2="974.7" y2="861.3" stroke="#322c8a" stroke-width="1.1"/>
<line x1="961.5" y1="844.53" x2="968.4" y2="844.53" stroke="#322c8a" stroke-width="1.1"/>
<line x1="961.5" y1="827.76" x2="968.4" y2="827.76" stroke="#322c8a" stroke-width="1.1"/>
<line x1="961.5" y1="810.99" x2="968.4" y2="810.99" stroke="#322c8a" stroke-width="1.1"/>
<line x1="961.5" y1="794.22" x2="968.4" y2="794.22" stroke="#322c8a" stroke-width="1.1"/>
<line x1="961.5" y1="777.45" x2="968.4" y2="777.45" stroke="#322c8a" stroke-width="1.1"/>
<line x1="961.5" y1="760.68" x2="968.4" y2="760.68" stroke="#322c8a" stroke-width="1.1"/>
<line x1="961.5" y1="743.91" x2="968.4" y2="743.91" stroke="#322c8a" stroke-width="1.1"/>
<line x1="1570.8" y1="1235.98" x2="1563.8" y2="1235.98" stroke="#e8126f" stroke-width="1.1"/>
<line x1="1570.8" y1="1221.05" x2="1563.8" y2="1221.05" stroke="#e8126f" stroke-width="1.1"/>
<line x1="1570.8" y1="1206.12" x2="1563.8" y2="1206.12" stroke="#e8126f" stroke-width="1.1"/>
<line x1="1570.8" y1="1191.2" x2="1558" y2="1191.2" stroke="#e8126f" stroke-width="1.1"/>
<line x1="1570.8" y1="1176.27" x2="1563.8" y2="1176.27" stroke="#e8126f" stroke-width="1.1"/>
<line x1="1570.8" y1="1161.35" x2="1563.8" y2="1161.35" stroke="#e8126f" stroke-width="1.1"/>
<line x1="1570.8" y1="1146.43" x2="1563.8" y2="1146.43" stroke="#e8126f" stroke-width="1.1"/>
<line x1="1570.8" y1="1131.5" x2="1558" y2="1131.5" stroke="#e8126f" stroke-width="1.1"/>
<line x1="1570.8" y1="1116.57" x2="1563.8" y2="1116.57" stroke="#e8126f" stroke-width="1.1"/>
<line x1="1570.8" y1="1101.65" x2="1563.8" y2="1101.65" stroke="#e8126f" stroke-width="1.1"/>
<line x1="1570.8" y1="1086.72" x2="1563.8" y2="1086.72" stroke="#e8126f" stroke-width="1.1"/>
<line x1="1570.8" y1="1071.8" x2="1558" y2="1071.8" stroke="#e8126f" stroke-width="1.1"/>
<line x1="1570.8" y1="1056.88" x2="1563.8" y2="1056.88" stroke="#e8126f" stroke-width="1.1"/>
<line x1="1570.8" y1="1041.95" x2="1563.8" y2="1041.95" stroke="#e8126f" stroke-width="1.1"/>
<line x1="1570.8" y1="1027.03" x2="1563.8" y2="1027.03" stroke="#e8126f" stroke-width="1.1"/>
<line x1="1570.8" y1="1012.1" x2="1558" y2="1012.1" stroke="#e8126f" stroke-width="1.1"/>
<line x1="1570.8" y1="997.17" x2="1563.8" y2="997.17" stroke="#e8126f" stroke-width="1.1"/>
<line x1="1570.8" y1="982.25" x2="1563.8" y2="982.25" stroke="#e8126f" stroke-width="1.1"/>
<line x1="1570.8" y1="967.33" x2="1563.8" y2="967.33" stroke="#e8126f" stroke-width="1.1"/>
<line x1="1570.8" y1="952.4" x2="1558" y2="952.4" stroke="#e8126f" stroke-width="1.1"/>
<line x1="1570.8" y1="937.48" x2="1563.8" y2="937.48" stroke="#e8126f" stroke-width="1.1"/>
<line x1="1570.8" y1="922.55" x2="1563.8" y2="922.55" stroke="#e8126f" stroke-width="1.1"/>
<line x1="1570.8" y1="907.62" x2="1563.8" y2="907.62" stroke="#e8126f" stroke-width="1.1"/>
<line x1="1570.8" y1="892.7" x2="1558" y2="892.7" stroke="#e8126f" stroke-width="1.1"/>
<line x1="1570.8" y1="877.78" x2="1563.8" y2="877.78" stroke="#e8126f" stroke-width="1.1"/>
<line x1="1570.8" y1="862.85" x2="1563.8" y2="862.85" stroke="#e8126f" stroke-width="1.1"/>
<line x1="1570.8" y1="847.93" x2="1563.8" y2="847.93" stroke="#e8126f" stroke-width="1.1"/>
<line x1="1570.8" y1="833" x2="1558" y2="833" stroke="#e8126f" stroke-width="1.1"/>
<line x1="1570.8" y1="818.07" x2="1563.8" y2="818.07" stroke="#e8126f" stroke-width="1.1"/>
<line x1="1570.8" y1="803.15" x2="1563.8" y2="803.15" stroke="#e8126f" stroke-width="1.1"/>
<line x1="1570.8" y1="788.22" x2="1563.8" y2="788.22" stroke="#e8126f" stroke-width="1.1"/>
<line x1="1570.8" y1="773.3" x2="1558" y2="773.3" stroke="#e8126f" stroke-width="1.1"/>
<line x1="1570.8" y1="758.38" x2="1563.8" y2="758.38" stroke="#e8126f" stroke-width="1.1"/>
<line x1="1570.8" y1="743.45" x2="1563.8" y2="743.45" stroke="#e8126f" stroke-width="1.1"/>
<text transform="translate(1034,1299.6) scale(1,1.04)" font-family="'Liberation Sans', Arial, Helvetica, sans-serif" font-size="35" fill="#231f20" text-anchor="middle">20</text>
<text transform="translate(1115.4,1299.6) scale(1,1.04)" font-family="'Liberation Sans', Arial, Helvetica, sans-serif" font-size="35" fill="#231f20" text-anchor="middle">40</text>
<text transform="translate(1196.8,1299.6) scale(1,1.04)" font-family="'Liberation Sans', Arial, Helvetica, sans-serif" font-size="35" fill="#231f20" text-anchor="middle">60</text>
<text transform="translate(1278.2,1299.6) scale(1,1.04)" font-family="'Liberation Sans', Arial, Helvetica, sans-serif" font-size="35" fill="#231f20" text-anchor="middle">80</text>
<text transform="translate(1359.6,1299.6) scale(1,1.04)" font-family="'Liberation Sans', Arial, Helvetica, sans-serif" font-size="35" fill="#231f20" text-anchor="middle">100</text>
<text transform="translate(1441,1299.6) scale(1,1.04)" font-family="'Liberation Sans', Arial, Helvetica, sans-serif" font-size="35" fill="#231f20" text-anchor="middle">120</text>
<text transform="translate(1522.4,1299.6) scale(1,1.04)" font-family="'Liberation Sans', Arial, Helvetica, sans-serif" font-size="35" fill="#231f20" text-anchor="middle">140</text>
<text transform="translate(947,1207.3) scale(1,1.04)" font-family="'Liberation Sans', Arial, Helvetica, sans-serif" font-size="31" fill="#322c8a" text-anchor="end">2.915</text>
<text transform="translate(947,1039.6) scale(1,1.04)" font-family="'Liberation Sans', Arial, Helvetica, sans-serif" font-size="31" fill="#322c8a" text-anchor="end">2.916</text>
<text transform="translate(947,871.9) scale(1,1.04)" font-family="'Liberation Sans', Arial, Helvetica, sans-serif" font-size="31" fill="#322c8a" text-anchor="end">2.917</text>
<text transform="translate(1583.5,1203.4) scale(1,1.04)" font-family="'Liberation Sans', Arial, Helvetica, sans-serif" font-size="31" fill="#e8126f" text-anchor="start">10.338</text>
<text transform="translate(1583.5,1143.7) scale(1,1.04)" font-family="'Liberation Sans', Arial, Helvetica, sans-serif" font-size="31" fill="#e8126f" text-anchor="start">10.340</text>
<text transform="translate(1583.5,1084) scale(1,1.04)" font-family="'Liberation Sans', Arial, Helvetica, sans-serif" font-size="31" fill="#e8126f" text-anchor="start">10.342</text>
<text transform="translate(1583.5,1024.3) scale(1,1.04)" font-family="'Liberation Sans', Arial, Helvetica, sans-serif" font-size="31" fill="#e8126f" text-anchor="start">10.344</text>
<text transform="translate(1583.5,964.6) scale(1,1.04)" font-family="'Liberation Sans', Arial, Helvetica, sans-serif" font-size="31" fill="#e8126f" text-anchor="start">10.346</text>
<text transform="translate(1583.5,904.9) scale(1,1.04)" font-family="'Liberation Sans', Arial, Helvetica, sans-serif" font-size="31" fill="#e8126f" text-anchor="start">10.348</text>
<text transform="translate(1583.5,845.2) scale(1,1.04)" font-family="'Liberation Sans', Arial, Helvetica, sans-serif" font-size="31" fill="#e8126f" text-anchor="start">10.350</text>
<text transform="translate(1583.5,785.5) scale(1,1.04)" font-family="'Liberation Sans', Arial, Helvetica, sans-serif" font-size="31" fill="#e8126f" text-anchor="start">10.352</text>
<text transform="translate(1261,1354.2) scale(1,1.04)" font-family="'Liberation Sans', Arial, Helvetica, sans-serif" font-size="35" fill="#231f20" text-anchor="middle">Temperature [K]</text>
<text transform="translate(845.3,1060.4) rotate(-90) scale(1,1.04)" font-family="'Liberation Sans', Arial, Helvetica, sans-serif" font-size="34.65" fill="#322c8a">b-axis [Å]</text>
<text transform="translate(1718.4,1058.6) rotate(-90) scale(1,1.04)" font-family="'Liberation Sans', Arial, Helvetica, sans-serif" font-size="34.4" fill="#e8126f">c-axis [Å]</text>
</svg></body></html>
